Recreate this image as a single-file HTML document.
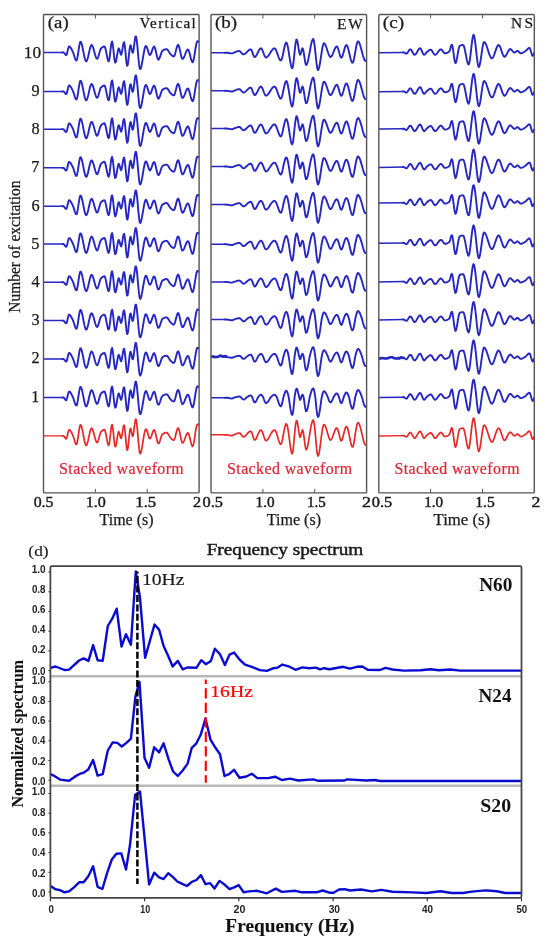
<!DOCTYPE html>
<html><head><meta charset="utf-8"><title>Figure</title>
<style>html,body{margin:0;padding:0;background:#fff;width:550px;height:944px;overflow:hidden}svg{display:block}</style>
</head><body>
<svg width="550" height="944" viewBox="0 0 550 944">
<rect width="550" height="944" fill="#ffffff"/>
<defs>
<clipPath id="ca"><rect x="43.5" y="14.5" width="155.6" height="478.4"/></clipPath>
<clipPath id="cb"><rect x="211.0" y="14.5" width="155.6" height="478.4"/></clipPath>
<clipPath id="cc"><rect x="378.8" y="14.5" width="155.5" height="478.4"/></clipPath>
</defs>
<g clip-path="url(#ca)" fill="none" stroke-linejoin="round" stroke-linecap="round">
<g stroke="#2626c2">
<path d="M43.5 52.40L62.8 52.40" stroke-width="1.5"/>
<path d="M62.3 52.40 62.9 52.40 63.5 52.44 64.1 52.92 64.7 53.73 65.3 54.56 65.9 55.12 66.5 54.94 67.1 53.18 67.7 50.57 68.3 48.04 68.9 46.52 69.5 46.50 70.1 47.00 70.7 47.82 71.3 48.85 71.9 49.99 72.5 51.13 73.1 52.37 73.7 54.09 74.3 56.06 74.9 57.98 75.5 59.54 76.1 60.47 76.7 60.31 77.3 58.27 77.9 54.86 78.5 50.80 79.1 46.81 79.7 43.58 80.3 41.83 80.9 41.98 81.5 43.31 82.1 45.49 82.7 48.24 83.3 51.29 83.9 54.37 84.5 57.19 85.1 59.48 85.7 60.97 86.3 61.38 86.9 60.64 87.5 59.01 88.1 56.74 88.7 54.11 89.3 51.39 89.9 48.85 90.5 46.76 91.1 45.40 91.7 45.01 92.3 45.61 92.9 46.95 93.5 48.80 94.1 50.96 94.7 53.21 95.3 55.33 95.9 57.12 96.5 58.34 97.1 58.80 97.7 58.22 98.3 56.73 98.9 54.68 99.5 52.46 100.1 50.42 100.7 48.93 101.3 48.21 101.9 47.66 102.5 47.17 103.1 46.78 103.7 46.52 104.3 46.40 104.9 46.96 105.5 48.84 106.1 51.58 106.7 54.68 107.3 57.67 107.9 60.04 108.5 61.31 109.1 60.59 109.7 57.00 110.3 51.85 110.9 46.59 111.5 42.64 112.1 41.46 112.7 43.88 113.3 48.75 113.9 54.51 114.5 59.64 115.1 62.57 115.7 62.28 116.3 59.93 116.9 56.48 117.5 52.82 118.1 49.81 118.7 48.33 119.3 49.09 119.9 51.34 120.5 53.70 121.1 54.80 121.7 53.39 122.3 50.08 122.9 46.20 123.5 43.10 124.1 42.16 124.7 44.88 125.3 50.34 125.9 56.81 126.5 62.55 127.1 65.85 127.7 65.19 128.3 61.21 128.9 55.55 129.5 49.89 130.1 45.91 130.7 45.19 131.3 47.40 131.9 50.60 132.5 52.81 133.1 52.23 133.7 48.86 134.3 44.14 134.9 39.55 135.5 36.54 136.1 36.56 136.7 39.84 137.3 45.37 137.9 52.07 138.5 58.86 139.1 64.66 139.7 68.39 140.3 69.12 140.9 67.99 141.5 65.78 142.1 62.80 142.7 59.35 143.3 55.75 143.9 52.30 144.5 49.32 145.1 47.11 145.7 45.98 146.3 46.15 146.9 47.32 147.5 49.10 148.1 51.13 148.7 53.03 149.3 54.45 149.9 55.00 150.5 54.53 151.1 53.33 151.7 51.69 152.3 49.91 152.9 48.27 153.5 47.07 154.1 46.60 154.7 47.29 155.3 49.09 155.9 51.56 156.5 54.29 157.1 56.83 157.7 58.77 158.3 59.68 158.9 59.38 159.5 58.28 160.1 56.68 160.7 54.84 161.3 53.05 161.9 51.57 162.5 50.67 163.1 50.31 163.7 49.99 164.3 49.72 164.9 49.49 165.5 49.33 166.1 49.23 166.7 49.21 167.3 49.52 167.9 50.20 168.5 51.12 169.1 52.14 169.7 53.14 170.3 53.99 170.9 54.57 171.5 55.10 172.1 55.61 172.7 56.04 173.3 56.32 173.9 56.38 174.5 55.58 175.1 53.86 175.7 51.61 176.3 49.20 176.9 47.01 177.5 45.41 178.1 44.80 178.7 45.52 179.3 47.39 179.9 49.98 180.5 52.87 181.1 55.60 181.7 57.76 182.3 58.91 182.9 58.85 183.5 58.14 184.1 56.99 184.7 55.55 185.3 53.99 185.9 52.44 186.5 51.08 187.1 50.06 187.7 49.54 188.3 49.76 188.9 50.99 189.5 52.94 190.1 55.29 190.7 57.72 191.3 59.90 191.9 61.53 192.5 62.28 193.1 61.66 193.7 59.48 194.3 56.23 194.9 52.41 195.5 48.50 196.1 45.00 196.7 42.42 197.3 41.23 197.9 41.22 198.5 41.43 199.1 42.06" stroke-width="1.9"/>
<path d="M43.5 91.40L62.8 91.40" stroke-width="1.5"/>
<path d="M62.3 91.40 62.9 91.40 63.5 91.44 64.1 91.92 64.7 92.73 65.3 93.56 65.9 94.12 66.5 93.94 67.1 92.18 67.7 89.57 68.3 87.04 68.9 85.52 69.5 85.50 70.1 86.00 70.7 86.82 71.3 87.85 71.9 88.99 72.5 90.13 73.1 91.37 73.7 93.09 74.3 95.06 74.9 96.98 75.5 98.54 76.1 99.47 76.7 99.31 77.3 97.27 77.9 93.86 78.5 89.80 79.1 85.81 79.7 82.58 80.3 80.83 80.9 80.98 81.5 82.31 82.1 84.49 82.7 87.24 83.3 90.29 83.9 93.37 84.5 96.19 85.1 98.48 85.7 99.97 86.3 100.38 86.9 99.64 87.5 98.01 88.1 95.74 88.7 93.11 89.3 90.39 89.9 87.85 90.5 85.76 91.1 84.40 91.7 84.01 92.3 84.61 92.9 85.95 93.5 87.80 94.1 89.96 94.7 92.21 95.3 94.33 95.9 96.12 96.5 97.34 97.1 97.80 97.7 97.22 98.3 95.73 98.9 93.68 99.5 91.46 100.1 89.42 100.7 87.93 101.3 87.21 101.9 86.66 102.5 86.17 103.1 85.78 103.7 85.52 104.3 85.40 104.9 85.96 105.5 87.84 106.1 90.58 106.7 93.68 107.3 96.67 107.9 99.04 108.5 100.31 109.1 99.59 109.7 96.00 110.3 90.85 110.9 85.59 111.5 81.64 112.1 80.46 112.7 82.88 113.3 87.75 113.9 93.51 114.5 98.64 115.1 101.57 115.7 101.28 116.3 98.93 116.9 95.48 117.5 91.82 118.1 88.81 118.7 87.33 119.3 88.09 119.9 90.34 120.5 92.70 121.1 93.80 121.7 92.39 122.3 89.08 122.9 85.20 123.5 82.10 124.1 81.16 124.7 83.88 125.3 89.34 125.9 95.81 126.5 101.55 127.1 104.85 127.7 104.19 128.3 100.21 128.9 94.55 129.5 88.89 130.1 84.91 130.7 84.19 131.3 86.40 131.9 89.60 132.5 91.81 133.1 91.23 133.7 87.86 134.3 83.14 134.9 78.55 135.5 75.54 136.1 75.56 136.7 78.84 137.3 84.37 137.9 91.07 138.5 97.86 139.1 103.66 139.7 107.39 140.3 108.12 140.9 106.99 141.5 104.78 142.1 101.80 142.7 98.35 143.3 94.75 143.9 91.30 144.5 88.32 145.1 86.11 145.7 84.98 146.3 85.15 146.9 86.32 147.5 88.10 148.1 90.13 148.7 92.03 149.3 93.45 149.9 94.00 150.5 93.53 151.1 92.33 151.7 90.69 152.3 88.91 152.9 87.27 153.5 86.07 154.1 85.60 154.7 86.29 155.3 88.09 155.9 90.56 156.5 93.29 157.1 95.83 157.7 97.77 158.3 98.68 158.9 98.38 159.5 97.28 160.1 95.68 160.7 93.84 161.3 92.05 161.9 90.57 162.5 89.67 163.1 89.31 163.7 88.99 164.3 88.72 164.9 88.49 165.5 88.33 166.1 88.23 166.7 88.21 167.3 88.52 167.9 89.20 168.5 90.12 169.1 91.14 169.7 92.14 170.3 92.99 170.9 93.57 171.5 94.10 172.1 94.61 172.7 95.04 173.3 95.32 173.9 95.38 174.5 94.58 175.1 92.86 175.7 90.61 176.3 88.20 176.9 86.01 177.5 84.41 178.1 83.80 178.7 84.52 179.3 86.39 179.9 88.98 180.5 91.87 181.1 94.60 181.7 96.76 182.3 97.91 182.9 97.85 183.5 97.14 184.1 95.99 184.7 94.55 185.3 92.99 185.9 91.44 186.5 90.08 187.1 89.06 187.7 88.54 188.3 88.76 188.9 89.99 189.5 91.94 190.1 94.29 190.7 96.72 191.3 98.90 191.9 100.53 192.5 101.28 193.1 100.66 193.7 98.48 194.3 95.23 194.9 91.41 195.5 87.50 196.1 84.00 196.7 81.42 197.3 80.23 197.9 80.22 198.5 80.43 199.1 81.06" stroke-width="1.9"/>
<path d="M43.5 129.30L62.8 129.30" stroke-width="1.5"/>
<path d="M62.3 129.30 62.9 129.30 63.5 129.34 64.1 129.82 64.7 130.63 65.3 131.46 65.9 132.02 66.5 131.84 67.1 130.08 67.7 127.47 68.3 124.94 68.9 123.42 69.5 123.40 70.1 123.90 70.7 124.72 71.3 125.75 71.9 126.89 72.5 128.03 73.1 129.27 73.7 130.99 74.3 132.96 74.9 134.88 75.5 136.44 76.1 137.37 76.7 137.21 77.3 135.17 77.9 131.76 78.5 127.70 79.1 123.71 79.7 120.48 80.3 118.73 80.9 118.88 81.5 120.21 82.1 122.39 82.7 125.14 83.3 128.19 83.9 131.27 84.5 134.09 85.1 136.38 85.7 137.87 86.3 138.28 86.9 137.54 87.5 135.91 88.1 133.64 88.7 131.01 89.3 128.29 89.9 125.75 90.5 123.66 91.1 122.30 91.7 121.91 92.3 122.51 92.9 123.85 93.5 125.70 94.1 127.86 94.7 130.11 95.3 132.23 95.9 134.02 96.5 135.24 97.1 135.70 97.7 135.12 98.3 133.63 98.9 131.58 99.5 129.36 100.1 127.32 100.7 125.83 101.3 125.11 101.9 124.56 102.5 124.07 103.1 123.68 103.7 123.42 104.3 123.30 104.9 123.86 105.5 125.74 106.1 128.48 106.7 131.58 107.3 134.57 107.9 136.94 108.5 138.21 109.1 137.49 109.7 133.90 110.3 128.75 110.9 123.49 111.5 119.54 112.1 118.36 112.7 120.78 113.3 125.65 113.9 131.41 114.5 136.54 115.1 139.47 115.7 139.18 116.3 136.83 116.9 133.38 117.5 129.72 118.1 126.71 118.7 125.23 119.3 125.99 119.9 128.24 120.5 130.60 121.1 131.70 121.7 130.29 122.3 126.98 122.9 123.10 123.5 120.00 124.1 119.06 124.7 121.78 125.3 127.24 125.9 133.71 126.5 139.45 127.1 142.75 127.7 142.09 128.3 138.11 128.9 132.45 129.5 126.79 130.1 122.81 130.7 122.09 131.3 124.30 131.9 127.50 132.5 129.71 133.1 129.13 133.7 125.76 134.3 121.04 134.9 116.45 135.5 113.44 136.1 113.46 136.7 116.74 137.3 122.27 137.9 128.97 138.5 135.76 139.1 141.56 139.7 145.29 140.3 146.02 140.9 144.89 141.5 142.68 142.1 139.70 142.7 136.25 143.3 132.65 143.9 129.20 144.5 126.22 145.1 124.01 145.7 122.88 146.3 123.05 146.9 124.22 147.5 126.00 148.1 128.03 148.7 129.93 149.3 131.35 149.9 131.90 150.5 131.43 151.1 130.23 151.7 128.59 152.3 126.81 152.9 125.17 153.5 123.97 154.1 123.50 154.7 124.19 155.3 125.99 155.9 128.46 156.5 131.19 157.1 133.73 157.7 135.67 158.3 136.58 158.9 136.28 159.5 135.18 160.1 133.58 160.7 131.74 161.3 129.95 161.9 128.47 162.5 127.57 163.1 127.21 163.7 126.89 164.3 126.62 164.9 126.39 165.5 126.23 166.1 126.13 166.7 126.11 167.3 126.42 167.9 127.10 168.5 128.02 169.1 129.04 169.7 130.04 170.3 130.89 170.9 131.47 171.5 132.00 172.1 132.51 172.7 132.94 173.3 133.22 173.9 133.28 174.5 132.48 175.1 130.76 175.7 128.51 176.3 126.10 176.9 123.91 177.5 122.31 178.1 121.70 178.7 122.42 179.3 124.29 179.9 126.88 180.5 129.77 181.1 132.50 181.7 134.66 182.3 135.81 182.9 135.75 183.5 135.04 184.1 133.89 184.7 132.45 185.3 130.89 185.9 129.34 186.5 127.98 187.1 126.96 187.7 126.44 188.3 126.66 188.9 127.89 189.5 129.84 190.1 132.19 190.7 134.62 191.3 136.80 191.9 138.43 192.5 139.18 193.1 138.56 193.7 136.38 194.3 133.13 194.9 129.31 195.5 125.40 196.1 121.90 196.7 119.32 197.3 118.13 197.9 118.12 198.5 118.33 199.1 118.96" stroke-width="1.9"/>
<path d="M43.5 167.80L62.8 167.80" stroke-width="1.5"/>
<path d="M62.3 167.80 62.9 167.80 63.5 167.84 64.1 168.32 64.7 169.13 65.3 169.96 65.9 170.52 66.5 170.34 67.1 168.58 67.7 165.97 68.3 163.44 68.9 161.92 69.5 161.90 70.1 162.40 70.7 163.22 71.3 164.25 71.9 165.39 72.5 166.53 73.1 167.77 73.7 169.49 74.3 171.46 74.9 173.38 75.5 174.94 76.1 175.87 76.7 175.71 77.3 173.67 77.9 170.26 78.5 166.20 79.1 162.21 79.7 158.98 80.3 157.23 80.9 157.38 81.5 158.71 82.1 160.89 82.7 163.64 83.3 166.69 83.9 169.77 84.5 172.59 85.1 174.88 85.7 176.37 86.3 176.78 86.9 176.04 87.5 174.41 88.1 172.14 88.7 169.51 89.3 166.79 89.9 164.25 90.5 162.16 91.1 160.80 91.7 160.41 92.3 161.01 92.9 162.35 93.5 164.20 94.1 166.36 94.7 168.61 95.3 170.73 95.9 172.52 96.5 173.74 97.1 174.20 97.7 173.62 98.3 172.13 98.9 170.08 99.5 167.86 100.1 165.82 100.7 164.33 101.3 163.61 101.9 163.06 102.5 162.57 103.1 162.18 103.7 161.92 104.3 161.80 104.9 162.36 105.5 164.24 106.1 166.98 106.7 170.08 107.3 173.07 107.9 175.44 108.5 176.71 109.1 175.99 109.7 172.40 110.3 167.25 110.9 161.99 111.5 158.04 112.1 156.86 112.7 159.28 113.3 164.15 113.9 169.91 114.5 175.04 115.1 177.97 115.7 177.68 116.3 175.33 116.9 171.88 117.5 168.22 118.1 165.21 118.7 163.73 119.3 164.49 119.9 166.74 120.5 169.10 121.1 170.20 121.7 168.79 122.3 165.48 122.9 161.60 123.5 158.50 124.1 157.56 124.7 160.28 125.3 165.74 125.9 172.21 126.5 177.95 127.1 181.25 127.7 180.59 128.3 176.61 128.9 170.95 129.5 165.29 130.1 161.31 130.7 160.59 131.3 162.80 131.9 166.00 132.5 168.21 133.1 167.63 133.7 164.26 134.3 159.54 134.9 154.95 135.5 151.94 136.1 151.96 136.7 155.24 137.3 160.77 137.9 167.47 138.5 174.26 139.1 180.06 139.7 183.79 140.3 184.52 140.9 183.39 141.5 181.18 142.1 178.20 142.7 174.75 143.3 171.15 143.9 167.70 144.5 164.72 145.1 162.51 145.7 161.38 146.3 161.55 146.9 162.72 147.5 164.50 148.1 166.53 148.7 168.43 149.3 169.85 149.9 170.40 150.5 169.93 151.1 168.73 151.7 167.09 152.3 165.31 152.9 163.67 153.5 162.47 154.1 162.00 154.7 162.69 155.3 164.49 155.9 166.96 156.5 169.69 157.1 172.23 157.7 174.17 158.3 175.08 158.9 174.78 159.5 173.68 160.1 172.08 160.7 170.24 161.3 168.45 161.9 166.97 162.5 166.07 163.1 165.71 163.7 165.39 164.3 165.12 164.9 164.89 165.5 164.73 166.1 164.63 166.7 164.61 167.3 164.92 167.9 165.60 168.5 166.52 169.1 167.54 169.7 168.54 170.3 169.39 170.9 169.97 171.5 170.50 172.1 171.01 172.7 171.44 173.3 171.72 173.9 171.78 174.5 170.98 175.1 169.26 175.7 167.01 176.3 164.60 176.9 162.41 177.5 160.81 178.1 160.20 178.7 160.92 179.3 162.79 179.9 165.38 180.5 168.27 181.1 171.00 181.7 173.16 182.3 174.31 182.9 174.25 183.5 173.54 184.1 172.39 184.7 170.95 185.3 169.39 185.9 167.84 186.5 166.48 187.1 165.46 187.7 164.94 188.3 165.16 188.9 166.39 189.5 168.34 190.1 170.69 190.7 173.12 191.3 175.30 191.9 176.93 192.5 177.68 193.1 177.06 193.7 174.88 194.3 171.63 194.9 167.81 195.5 163.90 196.1 160.40 196.7 157.82 197.3 156.63 197.9 156.62 198.5 156.83 199.1 157.46" stroke-width="1.9"/>
<path d="M43.5 206.20L62.8 206.20" stroke-width="1.5"/>
<path d="M62.3 206.20 62.9 206.20 63.5 206.24 64.1 206.72 64.7 207.53 65.3 208.36 65.9 208.92 66.5 208.74 67.1 206.98 67.7 204.37 68.3 201.84 68.9 200.32 69.5 200.30 70.1 200.80 70.7 201.62 71.3 202.65 71.9 203.79 72.5 204.93 73.1 206.17 73.7 207.89 74.3 209.86 74.9 211.78 75.5 213.34 76.1 214.27 76.7 214.11 77.3 212.07 77.9 208.66 78.5 204.60 79.1 200.61 79.7 197.38 80.3 195.63 80.9 195.78 81.5 197.11 82.1 199.29 82.7 202.04 83.3 205.09 83.9 208.17 84.5 210.99 85.1 213.28 85.7 214.77 86.3 215.18 86.9 214.44 87.5 212.81 88.1 210.54 88.7 207.91 89.3 205.19 89.9 202.65 90.5 200.56 91.1 199.20 91.7 198.81 92.3 199.41 92.9 200.75 93.5 202.60 94.1 204.76 94.7 207.01 95.3 209.13 95.9 210.92 96.5 212.14 97.1 212.60 97.7 212.02 98.3 210.53 98.9 208.48 99.5 206.26 100.1 204.22 100.7 202.73 101.3 202.01 101.9 201.46 102.5 200.97 103.1 200.58 103.7 200.32 104.3 200.20 104.9 200.76 105.5 202.64 106.1 205.38 106.7 208.48 107.3 211.47 107.9 213.84 108.5 215.11 109.1 214.39 109.7 210.80 110.3 205.65 110.9 200.39 111.5 196.44 112.1 195.26 112.7 197.68 113.3 202.55 113.9 208.31 114.5 213.44 115.1 216.37 115.7 216.08 116.3 213.73 116.9 210.28 117.5 206.62 118.1 203.61 118.7 202.13 119.3 202.89 119.9 205.14 120.5 207.50 121.1 208.60 121.7 207.19 122.3 203.88 122.9 200.00 123.5 196.90 124.1 195.96 124.7 198.68 125.3 204.14 125.9 210.61 126.5 216.35 127.1 219.65 127.7 218.99 128.3 215.01 128.9 209.35 129.5 203.69 130.1 199.71 130.7 198.99 131.3 201.20 131.9 204.40 132.5 206.61 133.1 206.03 133.7 202.66 134.3 197.94 134.9 193.35 135.5 190.34 136.1 190.36 136.7 193.64 137.3 199.17 137.9 205.87 138.5 212.66 139.1 218.46 139.7 222.19 140.3 222.92 140.9 221.79 141.5 219.58 142.1 216.60 142.7 213.15 143.3 209.55 143.9 206.10 144.5 203.12 145.1 200.91 145.7 199.78 146.3 199.95 146.9 201.12 147.5 202.90 148.1 204.93 148.7 206.83 149.3 208.25 149.9 208.80 150.5 208.33 151.1 207.13 151.7 205.49 152.3 203.71 152.9 202.07 153.5 200.87 154.1 200.40 154.7 201.09 155.3 202.89 155.9 205.36 156.5 208.09 157.1 210.63 157.7 212.57 158.3 213.48 158.9 213.18 159.5 212.08 160.1 210.48 160.7 208.64 161.3 206.85 161.9 205.37 162.5 204.47 163.1 204.11 163.7 203.79 164.3 203.52 164.9 203.29 165.5 203.13 166.1 203.03 166.7 203.01 167.3 203.32 167.9 204.00 168.5 204.92 169.1 205.94 169.7 206.94 170.3 207.79 170.9 208.37 171.5 208.90 172.1 209.41 172.7 209.84 173.3 210.12 173.9 210.18 174.5 209.38 175.1 207.66 175.7 205.41 176.3 203.00 176.9 200.81 177.5 199.21 178.1 198.60 178.7 199.32 179.3 201.19 179.9 203.78 180.5 206.67 181.1 209.40 181.7 211.56 182.3 212.71 182.9 212.65 183.5 211.94 184.1 210.79 184.7 209.35 185.3 207.79 185.9 206.24 186.5 204.88 187.1 203.86 187.7 203.34 188.3 203.56 188.9 204.79 189.5 206.74 190.1 209.09 190.7 211.52 191.3 213.70 191.9 215.33 192.5 216.08 193.1 215.46 193.7 213.28 194.3 210.03 194.9 206.21 195.5 202.30 196.1 198.80 196.7 196.22 197.3 195.03 197.9 195.02 198.5 195.23 199.1 195.86" stroke-width="1.9"/>
<path d="M43.5 244.00L62.8 244.00" stroke-width="1.5"/>
<path d="M62.3 244.00 62.9 244.00 63.5 244.04 64.1 244.52 64.7 245.33 65.3 246.16 65.9 246.72 66.5 246.54 67.1 244.78 67.7 242.17 68.3 239.64 68.9 238.12 69.5 238.10 70.1 238.60 70.7 239.42 71.3 240.45 71.9 241.59 72.5 242.73 73.1 243.97 73.7 245.69 74.3 247.66 74.9 249.58 75.5 251.14 76.1 252.07 76.7 251.91 77.3 249.87 77.9 246.46 78.5 242.40 79.1 238.41 79.7 235.18 80.3 233.43 80.9 233.58 81.5 234.91 82.1 237.09 82.7 239.84 83.3 242.89 83.9 245.97 84.5 248.79 85.1 251.08 85.7 252.57 86.3 252.98 86.9 252.24 87.5 250.61 88.1 248.34 88.7 245.71 89.3 242.99 89.9 240.45 90.5 238.36 91.1 237.00 91.7 236.61 92.3 237.21 92.9 238.55 93.5 240.40 94.1 242.56 94.7 244.81 95.3 246.93 95.9 248.72 96.5 249.94 97.1 250.40 97.7 249.82 98.3 248.33 98.9 246.28 99.5 244.06 100.1 242.02 100.7 240.53 101.3 239.81 101.9 239.26 102.5 238.77 103.1 238.38 103.7 238.12 104.3 238.00 104.9 238.56 105.5 240.44 106.1 243.18 106.7 246.28 107.3 249.27 107.9 251.64 108.5 252.91 109.1 252.19 109.7 248.60 110.3 243.45 110.9 238.19 111.5 234.24 112.1 233.06 112.7 235.48 113.3 240.35 113.9 246.11 114.5 251.24 115.1 254.17 115.7 253.88 116.3 251.53 116.9 248.08 117.5 244.42 118.1 241.41 118.7 239.93 119.3 240.69 119.9 242.94 120.5 245.30 121.1 246.40 121.7 244.99 122.3 241.68 122.9 237.80 123.5 234.70 124.1 233.76 124.7 236.48 125.3 241.94 125.9 248.41 126.5 254.15 127.1 257.45 127.7 256.79 128.3 252.81 128.9 247.15 129.5 241.49 130.1 237.51 130.7 236.79 131.3 239.00 131.9 242.20 132.5 244.41 133.1 243.83 133.7 240.46 134.3 235.74 134.9 231.15 135.5 228.14 136.1 228.16 136.7 231.44 137.3 236.97 137.9 243.67 138.5 250.46 139.1 256.26 139.7 259.99 140.3 260.72 140.9 259.59 141.5 257.38 142.1 254.40 142.7 250.95 143.3 247.35 143.9 243.90 144.5 240.92 145.1 238.71 145.7 237.58 146.3 237.75 146.9 238.92 147.5 240.70 148.1 242.73 148.7 244.63 149.3 246.05 149.9 246.60 150.5 246.13 151.1 244.93 151.7 243.29 152.3 241.51 152.9 239.87 153.5 238.67 154.1 238.20 154.7 238.89 155.3 240.69 155.9 243.16 156.5 245.89 157.1 248.43 157.7 250.37 158.3 251.28 158.9 250.98 159.5 249.88 160.1 248.28 160.7 246.44 161.3 244.65 161.9 243.17 162.5 242.27 163.1 241.91 163.7 241.59 164.3 241.32 164.9 241.09 165.5 240.93 166.1 240.83 166.7 240.81 167.3 241.12 167.9 241.80 168.5 242.72 169.1 243.74 169.7 244.74 170.3 245.59 170.9 246.17 171.5 246.70 172.1 247.21 172.7 247.64 173.3 247.92 173.9 247.98 174.5 247.18 175.1 245.46 175.7 243.21 176.3 240.80 176.9 238.61 177.5 237.01 178.1 236.40 178.7 237.12 179.3 238.99 179.9 241.58 180.5 244.47 181.1 247.20 181.7 249.36 182.3 250.51 182.9 250.45 183.5 249.74 184.1 248.59 184.7 247.15 185.3 245.59 185.9 244.04 186.5 242.68 187.1 241.66 187.7 241.14 188.3 241.36 188.9 242.59 189.5 244.54 190.1 246.89 190.7 249.32 191.3 251.50 191.9 253.13 192.5 253.88 193.1 253.26 193.7 251.08 194.3 247.83 194.9 244.01 195.5 240.10 196.1 236.60 196.7 234.02 197.3 232.83 197.9 232.82 198.5 233.03 199.1 233.66" stroke-width="1.9"/>
<path d="M43.5 282.20L62.8 282.20" stroke-width="1.5"/>
<path d="M62.3 282.20 62.9 282.20 63.5 282.24 64.1 282.72 64.7 283.53 65.3 284.36 65.9 284.92 66.5 284.74 67.1 282.98 67.7 280.37 68.3 277.84 68.9 276.32 69.5 276.30 70.1 276.80 70.7 277.62 71.3 278.65 71.9 279.79 72.5 280.93 73.1 282.17 73.7 283.89 74.3 285.86 74.9 287.78 75.5 289.34 76.1 290.27 76.7 290.11 77.3 288.07 77.9 284.66 78.5 280.60 79.1 276.61 79.7 273.38 80.3 271.63 80.9 271.78 81.5 273.11 82.1 275.29 82.7 278.04 83.3 281.09 83.9 284.17 84.5 286.99 85.1 289.28 85.7 290.77 86.3 291.18 86.9 290.44 87.5 288.81 88.1 286.54 88.7 283.91 89.3 281.19 89.9 278.65 90.5 276.56 91.1 275.20 91.7 274.81 92.3 275.41 92.9 276.75 93.5 278.60 94.1 280.76 94.7 283.01 95.3 285.13 95.9 286.92 96.5 288.14 97.1 288.60 97.7 288.02 98.3 286.53 98.9 284.48 99.5 282.26 100.1 280.22 100.7 278.73 101.3 278.01 101.9 277.46 102.5 276.97 103.1 276.58 103.7 276.32 104.3 276.20 104.9 276.76 105.5 278.64 106.1 281.38 106.7 284.48 107.3 287.47 107.9 289.84 108.5 291.11 109.1 290.39 109.7 286.80 110.3 281.65 110.9 276.39 111.5 272.44 112.1 271.26 112.7 273.68 113.3 278.55 113.9 284.31 114.5 289.44 115.1 292.37 115.7 292.08 116.3 289.73 116.9 286.28 117.5 282.62 118.1 279.61 118.7 278.13 119.3 278.89 119.9 281.14 120.5 283.50 121.1 284.60 121.7 283.19 122.3 279.88 122.9 276.00 123.5 272.90 124.1 271.96 124.7 274.68 125.3 280.14 125.9 286.61 126.5 292.35 127.1 295.65 127.7 294.99 128.3 291.01 128.9 285.35 129.5 279.69 130.1 275.71 130.7 274.99 131.3 277.20 131.9 280.40 132.5 282.61 133.1 282.03 133.7 278.66 134.3 273.94 134.9 269.35 135.5 266.34 136.1 266.36 136.7 269.64 137.3 275.17 137.9 281.87 138.5 288.66 139.1 294.46 139.7 298.19 140.3 298.92 140.9 297.79 141.5 295.58 142.1 292.60 142.7 289.15 143.3 285.55 143.9 282.10 144.5 279.12 145.1 276.91 145.7 275.78 146.3 275.95 146.9 277.12 147.5 278.90 148.1 280.93 148.7 282.83 149.3 284.25 149.9 284.80 150.5 284.33 151.1 283.13 151.7 281.49 152.3 279.71 152.9 278.07 153.5 276.87 154.1 276.40 154.7 277.09 155.3 278.89 155.9 281.36 156.5 284.09 157.1 286.63 157.7 288.57 158.3 289.48 158.9 289.18 159.5 288.08 160.1 286.48 160.7 284.64 161.3 282.85 161.9 281.37 162.5 280.47 163.1 280.11 163.7 279.79 164.3 279.52 164.9 279.29 165.5 279.13 166.1 279.03 166.7 279.01 167.3 279.32 167.9 280.00 168.5 280.92 169.1 281.94 169.7 282.94 170.3 283.79 170.9 284.37 171.5 284.90 172.1 285.41 172.7 285.84 173.3 286.12 173.9 286.18 174.5 285.38 175.1 283.66 175.7 281.41 176.3 279.00 176.9 276.81 177.5 275.21 178.1 274.60 178.7 275.32 179.3 277.19 179.9 279.78 180.5 282.67 181.1 285.40 181.7 287.56 182.3 288.71 182.9 288.65 183.5 287.94 184.1 286.79 184.7 285.35 185.3 283.79 185.9 282.24 186.5 280.88 187.1 279.86 187.7 279.34 188.3 279.56 188.9 280.79 189.5 282.74 190.1 285.09 190.7 287.52 191.3 289.70 191.9 291.33 192.5 292.08 193.1 291.46 193.7 289.28 194.3 286.03 194.9 282.21 195.5 278.30 196.1 274.80 196.7 272.22 197.3 271.03 197.9 271.02 198.5 271.23 199.1 271.86" stroke-width="1.9"/>
<path d="M43.5 320.60L62.8 320.60" stroke-width="1.5"/>
<path d="M62.3 320.60 62.9 320.60 63.5 320.64 64.1 321.12 64.7 321.93 65.3 322.76 65.9 323.32 66.5 323.14 67.1 321.38 67.7 318.77 68.3 316.24 68.9 314.72 69.5 314.70 70.1 315.20 70.7 316.02 71.3 317.05 71.9 318.19 72.5 319.33 73.1 320.57 73.7 322.29 74.3 324.26 74.9 326.18 75.5 327.74 76.1 328.67 76.7 328.51 77.3 326.47 77.9 323.06 78.5 319.00 79.1 315.01 79.7 311.78 80.3 310.03 80.9 310.18 81.5 311.51 82.1 313.69 82.7 316.44 83.3 319.49 83.9 322.57 84.5 325.39 85.1 327.68 85.7 329.17 86.3 329.58 86.9 328.84 87.5 327.21 88.1 324.94 88.7 322.31 89.3 319.59 89.9 317.05 90.5 314.96 91.1 313.60 91.7 313.21 92.3 313.81 92.9 315.15 93.5 317.00 94.1 319.16 94.7 321.41 95.3 323.53 95.9 325.32 96.5 326.54 97.1 327.00 97.7 326.42 98.3 324.93 98.9 322.88 99.5 320.66 100.1 318.62 100.7 317.13 101.3 316.41 101.9 315.86 102.5 315.37 103.1 314.98 103.7 314.72 104.3 314.60 104.9 315.16 105.5 317.04 106.1 319.78 106.7 322.88 107.3 325.87 107.9 328.24 108.5 329.51 109.1 328.79 109.7 325.20 110.3 320.05 110.9 314.79 111.5 310.84 112.1 309.66 112.7 312.08 113.3 316.95 113.9 322.71 114.5 327.84 115.1 330.77 115.7 330.48 116.3 328.13 116.9 324.68 117.5 321.02 118.1 318.01 118.7 316.53 119.3 317.29 119.9 319.54 120.5 321.90 121.1 323.00 121.7 321.59 122.3 318.28 122.9 314.40 123.5 311.30 124.1 310.36 124.7 313.08 125.3 318.54 125.9 325.01 126.5 330.75 127.1 334.05 127.7 333.39 128.3 329.41 128.9 323.75 129.5 318.09 130.1 314.11 130.7 313.39 131.3 315.60 131.9 318.80 132.5 321.01 133.1 320.43 133.7 317.06 134.3 312.34 134.9 307.75 135.5 304.74 136.1 304.76 136.7 308.04 137.3 313.57 137.9 320.27 138.5 327.06 139.1 332.86 139.7 336.59 140.3 337.32 140.9 336.19 141.5 333.98 142.1 331.00 142.7 327.55 143.3 323.95 143.9 320.50 144.5 317.52 145.1 315.31 145.7 314.18 146.3 314.35 146.9 315.52 147.5 317.30 148.1 319.33 148.7 321.23 149.3 322.65 149.9 323.20 150.5 322.73 151.1 321.53 151.7 319.89 152.3 318.11 152.9 316.47 153.5 315.27 154.1 314.80 154.7 315.49 155.3 317.29 155.9 319.76 156.5 322.49 157.1 325.03 157.7 326.97 158.3 327.88 158.9 327.58 159.5 326.48 160.1 324.88 160.7 323.04 161.3 321.25 161.9 319.77 162.5 318.87 163.1 318.51 163.7 318.19 164.3 317.92 164.9 317.69 165.5 317.53 166.1 317.43 166.7 317.41 167.3 317.72 167.9 318.40 168.5 319.32 169.1 320.34 169.7 321.34 170.3 322.19 170.9 322.77 171.5 323.30 172.1 323.81 172.7 324.24 173.3 324.52 173.9 324.58 174.5 323.78 175.1 322.06 175.7 319.81 176.3 317.40 176.9 315.21 177.5 313.61 178.1 313.00 178.7 313.72 179.3 315.59 179.9 318.18 180.5 321.07 181.1 323.80 181.7 325.96 182.3 327.11 182.9 327.05 183.5 326.34 184.1 325.19 184.7 323.75 185.3 322.19 185.9 320.64 186.5 319.28 187.1 318.26 187.7 317.74 188.3 317.96 188.9 319.19 189.5 321.14 190.1 323.49 190.7 325.92 191.3 328.10 191.9 329.73 192.5 330.48 193.1 329.86 193.7 327.68 194.3 324.43 194.9 320.61 195.5 316.70 196.1 313.20 196.7 310.62 197.3 309.43 197.9 309.42 198.5 309.63 199.1 310.26" stroke-width="1.9"/>
<path d="M43.5 358.90L62.8 358.90" stroke-width="1.5"/>
<path d="M62.3 358.90 62.9 358.90 63.5 358.94 64.1 359.42 64.7 360.23 65.3 361.06 65.9 361.62 66.5 361.44 67.1 359.68 67.7 357.07 68.3 354.54 68.9 353.02 69.5 353.00 70.1 353.50 70.7 354.32 71.3 355.35 71.9 356.49 72.5 357.63 73.1 358.87 73.7 360.59 74.3 362.56 74.9 364.48 75.5 366.04 76.1 366.97 76.7 366.81 77.3 364.77 77.9 361.36 78.5 357.30 79.1 353.31 79.7 350.08 80.3 348.33 80.9 348.48 81.5 349.81 82.1 351.99 82.7 354.74 83.3 357.79 83.9 360.87 84.5 363.69 85.1 365.98 85.7 367.47 86.3 367.88 86.9 367.14 87.5 365.51 88.1 363.24 88.7 360.61 89.3 357.89 89.9 355.35 90.5 353.26 91.1 351.90 91.7 351.51 92.3 352.11 92.9 353.45 93.5 355.30 94.1 357.46 94.7 359.71 95.3 361.83 95.9 363.62 96.5 364.84 97.1 365.30 97.7 364.72 98.3 363.23 98.9 361.18 99.5 358.96 100.1 356.92 100.7 355.43 101.3 354.71 101.9 354.16 102.5 353.67 103.1 353.28 103.7 353.02 104.3 352.90 104.9 353.46 105.5 355.34 106.1 358.08 106.7 361.18 107.3 364.17 107.9 366.54 108.5 367.81 109.1 367.09 109.7 363.50 110.3 358.35 110.9 353.09 111.5 349.14 112.1 347.96 112.7 350.38 113.3 355.25 113.9 361.01 114.5 366.14 115.1 369.07 115.7 368.78 116.3 366.43 116.9 362.98 117.5 359.32 118.1 356.31 118.7 354.83 119.3 355.59 119.9 357.84 120.5 360.20 121.1 361.30 121.7 359.89 122.3 356.58 122.9 352.70 123.5 349.60 124.1 348.66 124.7 351.38 125.3 356.84 125.9 363.31 126.5 369.05 127.1 372.35 127.7 371.69 128.3 367.71 128.9 362.05 129.5 356.39 130.1 352.41 130.7 351.69 131.3 353.90 131.9 357.10 132.5 359.31 133.1 358.73 133.7 355.36 134.3 350.64 134.9 346.05 135.5 343.04 136.1 343.06 136.7 346.34 137.3 351.87 137.9 358.57 138.5 365.36 139.1 371.16 139.7 374.89 140.3 375.62 140.9 374.49 141.5 372.28 142.1 369.30 142.7 365.85 143.3 362.25 143.9 358.80 144.5 355.82 145.1 353.61 145.7 352.48 146.3 352.65 146.9 353.82 147.5 355.60 148.1 357.63 148.7 359.53 149.3 360.95 149.9 361.50 150.5 361.03 151.1 359.83 151.7 358.19 152.3 356.41 152.9 354.77 153.5 353.57 154.1 353.10 154.7 353.79 155.3 355.59 155.9 358.06 156.5 360.79 157.1 363.33 157.7 365.27 158.3 366.18 158.9 365.88 159.5 364.78 160.1 363.18 160.7 361.34 161.3 359.55 161.9 358.07 162.5 357.17 163.1 356.81 163.7 356.49 164.3 356.22 164.9 355.99 165.5 355.83 166.1 355.73 166.7 355.71 167.3 356.02 167.9 356.70 168.5 357.62 169.1 358.64 169.7 359.64 170.3 360.49 170.9 361.07 171.5 361.60 172.1 362.11 172.7 362.54 173.3 362.82 173.9 362.88 174.5 362.08 175.1 360.36 175.7 358.11 176.3 355.70 176.9 353.51 177.5 351.91 178.1 351.30 178.7 352.02 179.3 353.89 179.9 356.48 180.5 359.37 181.1 362.10 181.7 364.26 182.3 365.41 182.9 365.35 183.5 364.64 184.1 363.49 184.7 362.05 185.3 360.49 185.9 358.94 186.5 357.58 187.1 356.56 187.7 356.04 188.3 356.26 188.9 357.49 189.5 359.44 190.1 361.79 190.7 364.22 191.3 366.40 191.9 368.03 192.5 368.78 193.1 368.16 193.7 365.98 194.3 362.73 194.9 358.91 195.5 355.00 196.1 351.50 196.7 348.92 197.3 347.73 197.9 347.72 198.5 347.93 199.1 348.56" stroke-width="1.9"/>
<path d="M43.5 397.50L62.8 397.50" stroke-width="1.5"/>
<path d="M62.3 397.50 62.9 397.50 63.5 397.54 64.1 398.02 64.7 398.83 65.3 399.66 65.9 400.22 66.5 400.04 67.1 398.28 67.7 395.67 68.3 393.14 68.9 391.62 69.5 391.60 70.1 392.10 70.7 392.92 71.3 393.95 71.9 395.09 72.5 396.23 73.1 397.47 73.7 399.19 74.3 401.16 74.9 403.08 75.5 404.64 76.1 405.57 76.7 405.41 77.3 403.37 77.9 399.96 78.5 395.90 79.1 391.91 79.7 388.68 80.3 386.93 80.9 387.08 81.5 388.41 82.1 390.59 82.7 393.34 83.3 396.39 83.9 399.47 84.5 402.29 85.1 404.58 85.7 406.07 86.3 406.48 86.9 405.74 87.5 404.11 88.1 401.84 88.7 399.21 89.3 396.49 89.9 393.95 90.5 391.86 91.1 390.50 91.7 390.11 92.3 390.71 92.9 392.05 93.5 393.90 94.1 396.06 94.7 398.31 95.3 400.43 95.9 402.22 96.5 403.44 97.1 403.90 97.7 403.32 98.3 401.83 98.9 399.78 99.5 397.56 100.1 395.52 100.7 394.03 101.3 393.31 101.9 392.76 102.5 392.27 103.1 391.88 103.7 391.62 104.3 391.50 104.9 392.06 105.5 393.94 106.1 396.68 106.7 399.78 107.3 402.77 107.9 405.14 108.5 406.41 109.1 405.69 109.7 402.10 110.3 396.95 110.9 391.69 111.5 387.74 112.1 386.56 112.7 388.98 113.3 393.85 113.9 399.61 114.5 404.74 115.1 407.67 115.7 407.38 116.3 405.03 116.9 401.58 117.5 397.92 118.1 394.91 118.7 393.43 119.3 394.19 119.9 396.44 120.5 398.80 121.1 399.90 121.7 398.49 122.3 395.18 122.9 391.30 123.5 388.20 124.1 387.26 124.7 389.98 125.3 395.44 125.9 401.91 126.5 407.65 127.1 410.95 127.7 410.29 128.3 406.31 128.9 400.65 129.5 394.99 130.1 391.01 130.7 390.29 131.3 392.50 131.9 395.70 132.5 397.91 133.1 397.33 133.7 393.96 134.3 389.24 134.9 384.65 135.5 381.64 136.1 381.66 136.7 384.94 137.3 390.47 137.9 397.17 138.5 403.96 139.1 409.76 139.7 413.49 140.3 414.22 140.9 413.09 141.5 410.88 142.1 407.90 142.7 404.45 143.3 400.85 143.9 397.40 144.5 394.42 145.1 392.21 145.7 391.08 146.3 391.25 146.9 392.42 147.5 394.20 148.1 396.23 148.7 398.13 149.3 399.55 149.9 400.10 150.5 399.63 151.1 398.43 151.7 396.79 152.3 395.01 152.9 393.37 153.5 392.17 154.1 391.70 154.7 392.39 155.3 394.19 155.9 396.66 156.5 399.39 157.1 401.93 157.7 403.87 158.3 404.78 158.9 404.48 159.5 403.38 160.1 401.78 160.7 399.94 161.3 398.15 161.9 396.67 162.5 395.77 163.1 395.41 163.7 395.09 164.3 394.82 164.9 394.59 165.5 394.43 166.1 394.33 166.7 394.31 167.3 394.62 167.9 395.30 168.5 396.22 169.1 397.24 169.7 398.24 170.3 399.09 170.9 399.67 171.5 400.20 172.1 400.71 172.7 401.14 173.3 401.42 173.9 401.48 174.5 400.68 175.1 398.96 175.7 396.71 176.3 394.30 176.9 392.11 177.5 390.51 178.1 389.90 178.7 390.62 179.3 392.49 179.9 395.08 180.5 397.97 181.1 400.70 181.7 402.86 182.3 404.01 182.9 403.95 183.5 403.24 184.1 402.09 184.7 400.65 185.3 399.09 185.9 397.54 186.5 396.18 187.1 395.16 187.7 394.64 188.3 394.86 188.9 396.09 189.5 398.04 190.1 400.39 190.7 402.82 191.3 405.00 191.9 406.63 192.5 407.38 193.1 406.76 193.7 404.58 194.3 401.33 194.9 397.51 195.5 393.60 196.1 390.10 196.7 387.52 197.3 386.33 197.9 386.32 198.5 386.53 199.1 387.16" stroke-width="1.9"/>
</g>
<g stroke="#e82626">
<path d="M43.5 435.90L62.8 435.90" stroke-width="1.4"/>
<path d="M62.3 435.90 62.9 435.90 63.5 435.94 64.1 436.45 64.7 437.31 65.3 438.19 65.9 438.78 66.5 438.59 67.1 436.73 67.7 434.00 68.3 431.37 68.9 429.78 69.5 429.77 70.1 430.29 70.7 431.13 71.3 432.21 71.9 433.39 72.5 434.58 73.1 435.87 73.7 437.69 74.3 439.78 74.9 441.81 75.5 443.47 76.1 444.45 76.7 444.29 77.3 442.12 77.9 438.51 78.5 434.24 79.1 430.08 79.7 426.73 80.3 424.91 80.9 425.06 81.5 426.44 82.1 428.71 82.7 431.57 83.3 434.75 83.9 437.98 84.5 440.98 85.1 443.41 85.7 444.99 86.3 445.42 86.9 444.64 87.5 442.90 88.1 440.50 88.7 437.71 89.3 434.85 89.9 432.21 90.5 430.04 91.1 428.62 91.7 428.22 92.3 428.84 92.9 430.23 93.5 432.16 94.1 434.40 94.7 436.76 95.3 439.01 95.9 440.90 96.5 442.20 97.1 442.68 97.7 442.07 98.3 440.49 98.9 438.32 99.5 435.96 100.1 433.84 100.7 432.29 101.3 431.54 101.9 430.97 102.5 430.46 103.1 430.06 103.7 429.78 104.3 429.66 104.9 430.24 105.5 432.20 106.1 435.05 106.7 438.32 107.3 441.48 107.9 443.99 108.5 445.34 109.1 444.58 109.7 440.78 110.3 435.33 110.9 429.85 111.5 425.75 112.1 424.52 112.7 427.04 113.3 432.10 113.9 438.14 114.5 443.57 115.1 446.68 115.7 446.37 116.3 443.88 116.9 440.22 117.5 436.34 118.1 433.20 118.7 431.67 119.3 432.46 119.9 434.80 120.5 437.28 121.1 438.44 121.7 436.95 122.3 433.48 122.9 429.45 123.5 426.23 124.1 425.26 124.7 428.08 125.3 433.76 125.9 440.57 126.5 446.66 127.1 450.15 127.7 449.46 128.3 445.23 128.9 439.24 129.5 433.29 130.1 429.15 130.7 428.40 131.3 430.70 131.9 434.02 132.5 436.34 133.1 435.72 133.7 432.22 134.3 427.31 134.9 422.53 135.5 419.41 136.1 419.43 136.7 422.84 137.3 428.59 137.9 435.56 138.5 442.75 139.1 448.90 139.7 452.85 140.3 453.62 140.9 452.43 141.5 450.09 142.1 446.92 142.7 443.27 143.3 439.45 143.9 435.80 144.5 432.69 145.1 430.40 145.7 429.22 146.3 429.40 146.9 430.62 147.5 432.47 148.1 434.58 148.7 436.57 149.3 438.07 149.9 438.66 150.5 438.16 151.1 436.89 151.7 435.17 152.3 433.31 152.9 431.60 153.5 430.35 154.1 429.87 154.7 430.59 155.3 432.46 155.9 435.03 156.5 437.90 157.1 440.60 157.7 442.65 158.3 443.62 158.9 443.29 159.5 442.13 160.1 440.44 160.7 438.49 161.3 436.59 161.9 435.03 162.5 434.10 163.1 433.73 163.7 433.40 164.3 433.11 164.9 432.88 165.5 432.71 166.1 432.60 166.7 432.58 167.3 432.90 167.9 433.61 168.5 434.57 169.1 435.63 169.7 436.69 170.3 437.58 170.9 438.20 171.5 438.76 172.1 439.30 172.7 439.75 173.3 440.05 173.9 440.12 174.5 439.27 175.1 437.45 175.7 435.08 176.3 432.57 176.9 430.29 177.5 428.64 178.1 428.00 178.7 428.74 179.3 430.69 179.9 433.39 180.5 436.39 181.1 439.29 181.7 441.58 182.3 442.81 182.9 442.74 183.5 441.99 184.1 440.77 184.7 439.24 185.3 437.58 185.9 435.95 186.5 434.53 187.1 433.47 187.7 432.92 188.3 433.16 188.9 434.44 189.5 436.47 190.1 438.96 190.7 441.53 191.3 443.85 191.9 445.58 192.5 446.38 193.1 445.72 193.7 443.41 194.3 439.96 194.9 435.91 195.5 431.84 196.1 428.21 196.7 425.52 197.3 424.28 197.9 424.27 198.5 424.49 199.1 425.15" stroke-width="1.7"/>
</g>
</g>
<rect x="43.5" y="14.5" width="155.6" height="478.4" fill="none" stroke="#555" stroke-width="1.4" rx="1"/>
<line x1="95.4" y1="14.5" x2="95.4" y2="18.5" stroke="#555" stroke-width="1"/>
<line x1="95.4" y1="492.9" x2="95.4" y2="488.9" stroke="#555" stroke-width="1"/>
<line x1="147.2" y1="14.5" x2="147.2" y2="18.5" stroke="#555" stroke-width="1"/>
<line x1="147.2" y1="492.9" x2="147.2" y2="488.9" stroke="#555" stroke-width="1"/>
<g clip-path="url(#cb)" fill="none" stroke-linejoin="round" stroke-linecap="round">
<g stroke="#2626c2">
<path d="M211.0 52.70L225.5 52.70" stroke-width="1.5"/>
<path d="M225.0 52.70 225.6 52.70 226.2 52.70 226.8 52.74 227.4 52.80 228.0 52.89 228.6 52.99 229.2 53.09 229.8 53.20 230.4 53.29 231.0 53.36 231.6 53.39 232.2 53.37 232.8 53.20 233.4 52.94 234.0 52.66 234.6 52.43 235.2 52.20 235.8 51.95 236.4 51.71 237.0 51.47 237.6 51.27 238.2 51.11 238.8 51.02 239.4 51.02 240.0 51.31 240.6 51.85 241.2 52.52 241.8 53.23 242.4 53.85 243.0 54.27 243.6 54.40 244.2 54.27 244.8 53.97 245.4 53.54 246.0 53.01 246.6 52.42 247.2 51.80 247.8 51.18 248.4 50.60 249.0 50.10 249.6 49.71 250.2 49.47 250.8 49.41 251.4 50.02 252.0 51.29 252.6 52.92 253.2 54.60 253.8 56.02 254.4 56.88 255.0 56.94 255.6 56.50 256.2 55.72 256.8 54.68 257.4 53.49 258.0 52.23 258.6 51.00 259.2 49.90 259.8 49.02 260.4 48.46 261.0 48.31 261.6 48.77 262.2 49.79 262.8 51.18 263.4 52.76 264.0 54.37 264.6 55.80 265.2 56.89 265.8 57.46 266.4 57.44 267.0 57.15 267.6 56.64 268.2 55.97 268.8 55.16 269.4 54.26 270.0 53.31 270.6 52.33 271.2 51.38 271.8 50.50 272.4 49.71 273.0 49.06 273.6 48.59 274.2 48.33 274.8 48.38 275.4 48.98 276.0 50.05 276.6 51.46 277.2 53.10 277.8 54.84 278.4 56.54 279.0 58.08 279.6 59.34 280.2 60.19 280.8 60.50 281.4 59.90 282.0 58.30 282.6 55.98 283.2 53.21 283.8 50.28 284.4 47.46 285.0 45.04 285.6 43.30 286.2 42.52 286.8 43.02 287.4 44.86 288.0 47.69 288.6 51.21 289.2 55.07 289.8 58.97 290.4 62.56 291.0 65.53 291.6 67.55 292.2 68.30 292.8 66.83 293.4 63.02 294.0 57.75 294.6 51.88 295.2 46.32 295.8 41.92 296.4 39.57 297.0 39.93 297.6 42.30 298.2 45.82 298.8 49.62 299.4 52.86 300.0 54.66 300.6 54.27 301.2 52.14 301.8 49.66 302.4 48.24 303.0 49.04 303.6 51.77 304.2 55.58 304.8 59.60 305.4 62.98 306.0 64.86 306.6 64.76 307.2 63.56 307.8 61.55 308.4 58.91 309.0 55.85 309.6 52.56 310.2 49.23 310.8 46.07 311.4 43.27 312.0 41.03 312.6 39.54 313.2 39.00 313.8 40.34 314.4 43.86 315.0 48.84 315.6 54.55 316.2 60.26 316.8 65.24 317.4 68.76 318.0 70.10 318.6 69.35 319.2 67.30 319.8 64.29 320.4 60.63 321.0 56.65 321.6 52.67 322.2 49.01 322.8 46.00 323.4 43.95 324.0 43.20 324.6 43.53 325.2 44.44 325.8 45.79 326.4 47.45 327.0 49.31 327.6 51.21 328.2 53.04 328.8 54.66 329.4 55.95 330.0 56.77 330.6 56.99 331.2 56.64 331.8 55.83 332.4 54.69 333.0 53.32 333.6 51.83 334.2 50.33 334.8 48.93 335.4 47.74 336.0 46.87 336.6 46.43 337.2 46.65 337.8 47.83 338.4 49.67 339.0 51.86 339.6 54.08 340.2 56.00 340.8 57.31 341.4 57.69 342.0 57.05 342.6 55.65 343.2 53.73 343.8 51.54 344.4 49.33 345.0 47.35 345.6 45.84 346.2 45.06 346.8 45.22 347.4 46.28 348.0 48.03 348.6 50.28 349.2 52.81 349.8 55.43 350.4 57.92 351.0 60.10 351.6 61.75 352.2 62.68 352.8 62.62 353.4 61.27 354.0 58.89 354.6 55.82 355.2 52.39 355.8 48.93 356.4 45.78 357.0 43.27 357.6 41.72 358.2 41.44 358.8 42.01 359.4 43.15 360.0 44.76 360.6 46.71 361.2 48.90 361.8 51.20 362.4 53.50 363.0 55.69 363.6 57.64 364.2 59.25 364.8 60.39 365.4 60.96 366.0 60.93 366.6 60.57" stroke-width="1.9"/>
<path d="M211.0 90.80L225.5 90.80" stroke-width="1.5"/>
<path d="M225.0 90.80 225.6 90.80 226.2 90.80 226.8 90.84 227.4 90.90 228.0 90.99 228.6 91.09 229.2 91.20 229.8 91.30 230.4 91.39 231.0 91.46 231.6 91.50 232.2 91.48 232.8 91.31 233.4 91.04 234.0 90.76 234.6 90.54 235.2 90.32 235.8 90.08 236.4 89.84 237.0 89.62 237.6 89.42 238.2 89.27 238.8 89.18 239.4 89.18 240.0 89.46 240.6 89.98 241.2 90.63 241.8 91.33 242.4 91.96 243.0 92.39 243.6 92.52 244.2 92.39 244.8 92.09 245.4 91.65 246.0 91.11 246.6 90.53 247.2 89.93 247.8 89.33 248.4 88.78 249.0 88.30 249.6 87.92 250.2 87.68 250.8 87.63 251.4 88.21 252.0 89.44 252.6 91.02 253.2 92.72 253.8 94.16 254.4 95.03 255.0 95.09 255.6 94.65 256.2 93.85 256.8 92.81 257.4 91.60 258.0 90.35 258.6 89.16 259.2 88.10 259.8 87.25 260.4 86.71 261.0 86.56 261.6 87.01 262.2 87.99 262.8 89.33 263.4 90.87 264.0 92.49 264.6 93.94 265.2 95.04 265.8 95.62 266.4 95.60 267.0 95.30 267.6 94.79 268.2 94.11 268.8 93.29 269.4 92.38 270.0 91.41 270.6 90.45 271.2 89.53 271.8 88.67 272.4 87.91 273.0 87.29 273.6 86.83 274.2 86.59 274.8 86.63 275.4 87.21 276.0 88.24 276.6 89.61 277.2 91.21 277.8 92.96 278.4 94.68 279.0 96.25 279.6 97.52 280.2 98.38 280.8 98.69 281.4 98.09 282.0 96.47 282.6 94.12 283.2 91.32 283.8 88.46 284.4 85.74 285.0 83.41 285.6 81.73 286.2 80.97 286.8 81.46 287.4 83.23 288.0 85.97 288.6 89.36 289.2 93.20 289.8 97.14 290.4 100.78 291.0 103.79 291.6 105.83 292.2 106.59 292.8 105.10 293.4 101.25 294.0 95.91 294.6 90.01 295.2 84.64 295.8 80.40 296.4 78.13 297.0 78.48 297.6 80.77 298.2 84.16 298.8 87.83 299.4 90.96 300.0 92.79 300.6 92.39 301.2 90.26 301.8 87.87 302.4 86.49 303.0 87.27 303.6 89.90 304.2 93.72 304.8 97.79 305.4 101.21 306.0 103.10 306.6 103.00 307.2 101.79 307.8 99.75 308.4 97.08 309.0 93.99 309.6 90.66 310.2 87.45 310.8 84.41 311.4 81.70 312.0 79.54 312.6 78.10 313.2 77.58 313.8 78.87 314.4 82.27 315.0 87.08 315.6 92.67 316.2 98.45 316.8 103.49 317.4 107.06 318.0 108.41 318.6 107.65 319.2 105.58 319.8 102.53 320.4 98.83 321.0 94.80 321.6 90.77 322.2 87.24 322.8 84.33 323.4 82.36 324.0 81.63 324.6 81.95 325.2 82.83 325.8 84.13 326.4 85.74 327.0 87.52 327.6 89.36 328.2 91.14 328.8 92.79 329.4 94.09 330.0 94.92 330.6 95.14 331.2 94.78 331.8 93.97 332.4 92.81 333.0 91.42 333.6 89.96 334.2 88.51 334.8 87.16 335.4 86.01 336.0 85.17 336.6 84.75 337.2 84.96 337.8 86.10 338.4 87.88 339.0 89.99 339.6 92.20 340.2 94.14 340.8 95.47 341.4 95.85 342.0 95.20 342.6 93.78 343.2 91.84 343.8 89.68 344.4 87.55 345.0 85.63 345.6 84.18 346.2 83.42 346.8 83.58 347.4 84.60 348.0 86.29 348.6 88.46 349.2 90.91 349.8 93.56 350.4 96.09 351.0 98.29 351.6 99.96 352.2 100.89 352.8 100.83 353.4 99.47 354.0 97.07 354.6 93.96 355.2 90.50 355.8 87.16 356.4 84.12 357.0 81.70 357.6 80.21 358.2 79.93 358.8 80.48 359.4 81.58 360.0 83.14 360.6 85.02 361.2 87.13 361.8 89.35 362.4 91.61 363.0 93.82 363.6 95.80 364.2 97.43 364.8 98.59 365.4 99.16 366.0 99.12 366.6 98.77" stroke-width="1.9"/>
<path d="M211.0 128.50L225.5 128.50" stroke-width="1.5"/>
<path d="M225.0 128.50 225.6 128.50 226.2 128.50 226.8 128.54 227.4 128.60 228.0 128.69 228.6 128.79 229.2 128.90 229.8 129.01 230.4 129.10 231.0 129.17 231.6 129.21 232.2 129.19 232.8 129.02 233.4 128.74 234.0 128.46 234.6 128.25 235.2 128.04 235.8 127.81 236.4 127.58 237.0 127.36 237.6 127.17 238.2 127.02 238.8 126.94 239.4 126.94 240.0 127.21 240.6 127.71 241.2 128.33 241.8 129.04 242.4 129.67 243.0 130.11 243.6 130.24 244.2 130.11 244.8 129.80 245.4 129.36 246.0 128.82 246.6 128.24 247.2 127.66 247.8 127.09 248.4 126.55 249.0 126.09 249.6 125.72 250.2 125.50 250.8 125.44 251.4 126.00 252.0 127.19 252.6 128.72 253.2 130.44 253.8 131.90 254.4 132.78 255.0 132.84 255.6 132.39 256.2 131.59 256.8 130.53 257.4 129.31 258.0 128.06 258.6 126.92 259.2 125.90 259.8 125.08 260.4 124.56 261.0 124.42 261.6 124.85 262.2 125.79 262.8 127.09 263.4 128.57 264.0 130.21 264.6 131.68 265.2 132.79 265.8 133.37 266.4 133.35 267.0 133.05 267.6 132.54 268.2 131.85 268.8 131.02 269.4 130.10 270.0 129.12 270.6 128.16 271.2 127.28 271.8 126.45 272.4 125.72 273.0 125.11 273.6 124.68 274.2 124.44 274.8 124.48 275.4 125.04 276.0 126.03 276.6 127.35 277.2 128.91 277.8 130.69 278.4 132.43 279.0 134.01 279.6 135.30 280.2 136.17 280.8 136.49 281.4 135.88 282.0 134.24 282.6 131.86 283.2 129.02 283.8 126.25 284.4 123.63 285.0 121.38 285.6 119.76 286.2 119.03 286.8 119.50 287.4 121.21 288.0 123.84 288.6 127.11 289.2 130.93 289.8 134.92 290.4 138.60 291.0 141.64 291.6 143.71 292.2 144.47 292.8 142.97 293.4 139.07 294.0 133.67 294.6 127.74 295.2 122.56 295.8 118.47 296.4 116.29 297.0 116.62 297.6 118.83 298.2 122.10 298.8 125.64 299.4 128.66 300.0 130.51 300.6 130.11 301.2 127.98 301.8 125.67 302.4 124.35 303.0 125.09 303.6 127.64 304.2 131.45 304.8 135.57 305.4 139.03 306.0 140.95 306.6 140.84 307.2 139.62 307.8 137.56 308.4 134.86 309.0 131.72 309.6 128.37 310.2 125.28 310.8 122.34 311.4 119.73 312.0 117.65 312.6 116.26 313.2 115.76 313.8 117.00 314.4 120.28 315.0 124.91 315.6 130.39 316.2 136.24 316.8 141.34 317.4 144.95 318.0 146.32 318.6 145.55 319.2 143.45 319.8 140.37 320.4 136.62 321.0 132.54 321.6 128.47 322.2 125.07 322.8 122.27 323.4 120.37 324.0 119.67 324.6 119.97 325.2 120.82 325.8 122.07 326.4 123.62 327.0 125.34 327.6 127.11 328.2 128.85 328.8 130.51 329.4 131.83 330.0 132.67 330.6 132.90 331.2 132.53 331.8 131.71 332.4 130.54 333.0 129.13 333.6 127.69 334.2 126.29 334.8 124.99 335.4 123.89 336.0 123.08 336.6 122.67 337.2 122.88 337.8 123.97 338.4 125.68 339.0 127.72 339.6 129.91 340.2 131.88 340.8 133.22 341.4 133.61 342.0 132.95 342.6 131.52 343.2 129.55 343.8 127.42 344.4 125.36 345.0 123.52 345.6 122.12 346.2 121.39 346.8 121.54 347.4 122.53 348.0 124.16 348.6 126.25 349.2 128.61 349.8 131.29 350.4 133.85 351.0 136.08 351.6 137.77 352.2 138.71 352.8 138.65 353.4 137.27 354.0 134.84 354.6 131.70 355.2 128.21 355.8 125.00 356.4 122.06 357.0 119.73 357.6 118.29 358.2 118.03 358.8 118.55 359.4 119.62 360.0 121.11 360.6 122.93 361.2 124.96 361.8 127.10 362.4 129.32 363.0 131.56 363.6 133.56 364.2 135.21 364.8 136.38 365.4 136.96 366.0 136.92 366.6 136.56" stroke-width="1.9"/>
<path d="M211.0 166.50L225.5 166.50" stroke-width="1.5"/>
<path d="M225.0 166.50 225.6 166.50 226.2 166.50 226.8 166.54 227.4 166.60 228.0 166.69 228.6 166.80 229.2 166.91 229.8 167.01 230.4 167.11 231.0 167.18 231.6 167.22 232.2 167.20 232.8 167.02 233.4 166.75 234.0 166.46 234.6 166.26 235.2 166.05 235.8 165.83 236.4 165.61 237.0 165.40 237.6 165.22 238.2 165.08 238.8 165.00 239.4 165.00 240.0 165.26 240.6 165.74 241.2 166.34 241.8 167.04 242.4 167.69 243.0 168.13 243.6 168.26 244.2 168.12 244.8 167.82 245.4 167.37 246.0 166.82 246.6 166.25 247.2 165.69 247.8 165.14 248.4 164.62 249.0 164.18 249.6 163.83 250.2 163.61 250.8 163.56 251.4 164.10 252.0 165.23 252.6 166.72 253.2 168.46 253.8 169.94 254.4 170.83 255.0 170.89 255.6 170.44 256.2 169.63 256.8 168.55 257.4 167.32 258.0 166.08 258.6 164.98 259.2 164.00 259.8 163.21 260.4 162.71 261.0 162.57 261.6 162.98 262.2 163.89 262.8 165.14 263.4 166.57 264.0 168.23 264.6 169.71 265.2 170.84 265.8 171.43 266.4 171.41 267.0 171.11 267.6 170.59 268.2 169.89 268.8 169.05 269.4 168.12 270.0 167.13 270.6 166.17 271.2 165.32 271.8 164.53 272.4 163.82 273.0 163.24 273.6 162.82 274.2 162.59 274.8 162.63 275.4 163.17 276.0 164.12 276.6 165.39 277.2 166.92 277.8 168.71 278.4 170.48 279.0 172.08 279.6 173.38 280.2 174.26 280.8 174.58 281.4 173.96 282.0 172.31 282.6 169.90 283.2 167.03 283.8 164.33 284.4 161.81 285.0 159.65 285.6 158.09 286.2 157.39 286.8 157.84 287.4 159.48 288.0 162.02 288.6 165.16 289.2 168.96 289.8 172.99 290.4 176.72 291.0 179.79 291.6 181.89 292.2 182.66 292.8 181.14 293.4 177.20 294.0 171.73 294.6 165.77 295.2 160.79 295.8 156.85 296.4 154.75 297.0 155.07 297.6 157.20 298.2 160.34 298.8 163.75 299.4 166.66 300.0 168.53 300.6 168.13 301.2 166.00 301.8 163.78 302.4 162.51 303.0 163.22 303.6 165.67 304.2 169.48 304.8 173.65 305.4 177.15 306.0 179.10 306.6 178.99 307.2 177.75 307.8 175.66 308.4 172.93 309.0 169.76 309.6 166.37 310.2 163.40 310.8 160.57 311.4 158.06 312.0 156.06 312.6 154.72 313.2 154.24 313.8 155.43 314.4 158.59 315.0 163.05 315.6 168.42 316.2 174.33 316.8 179.49 317.4 183.14 318.0 184.53 318.6 183.75 319.2 181.63 319.8 178.51 320.4 174.72 321.0 170.59 321.6 166.47 322.2 163.20 322.8 160.50 323.4 158.67 324.0 158.00 324.6 158.29 325.2 159.10 325.8 160.31 326.4 161.81 327.0 163.46 327.6 165.17 328.2 166.85 328.8 168.53 329.4 169.87 330.0 170.71 330.6 170.95 331.2 170.58 331.8 169.74 332.4 168.56 333.0 167.14 333.6 165.72 334.2 164.38 334.8 163.12 335.4 162.06 336.0 161.28 336.6 160.89 337.2 161.09 337.8 162.14 338.4 163.79 339.0 165.75 339.6 167.93 340.2 169.92 340.8 171.28 341.4 171.67 342.0 171.00 342.6 169.55 343.2 167.56 343.8 165.46 344.4 163.48 345.0 161.71 345.6 160.36 346.2 159.66 346.8 159.81 347.4 160.75 348.0 162.32 348.6 164.33 349.2 166.61 349.8 169.32 350.4 171.91 351.0 174.17 351.6 175.88 352.2 176.83 352.8 176.77 353.4 175.38 354.0 172.92 354.6 169.74 355.2 166.22 355.8 163.13 356.4 160.31 357.0 158.06 357.6 156.68 358.2 156.42 358.8 156.93 359.4 157.95 360.0 159.39 360.6 161.14 361.2 163.10 361.8 165.16 362.4 167.33 363.0 169.60 363.6 171.62 364.2 173.29 364.8 174.47 365.4 175.06 366.0 175.02 366.6 174.66" stroke-width="1.9"/>
<path d="M211.0 204.60L225.5 204.60" stroke-width="1.5"/>
<path d="M225.0 204.60 225.6 204.60 226.2 204.60 226.8 204.64 227.4 204.70 228.0 204.80 228.6 204.90 229.2 205.01 229.8 205.12 230.4 205.22 231.0 205.29 231.6 205.33 232.2 205.31 232.8 205.13 233.4 204.85 234.0 204.56 234.6 204.37 235.2 204.17 235.8 203.96 236.4 203.75 237.0 203.54 237.6 203.37 238.2 203.23 238.8 203.15 239.4 203.16 240.0 203.40 240.6 203.87 241.2 204.45 241.8 205.15 242.4 205.80 243.0 206.25 243.6 206.38 244.2 206.24 244.8 205.93 245.4 205.48 246.0 204.93 246.6 204.36 247.2 203.82 247.8 203.29 248.4 202.80 249.0 202.37 249.6 202.03 250.2 201.82 250.8 201.77 251.4 202.29 252.0 203.38 252.6 204.83 253.2 206.59 253.8 208.08 254.4 208.98 255.0 209.04 255.6 208.59 256.2 207.76 256.8 206.68 257.4 205.43 258.0 204.20 258.6 203.14 259.2 202.20 259.8 201.44 260.4 200.95 261.0 200.83 261.6 201.22 262.2 202.10 262.8 203.29 263.4 204.67 264.0 206.35 264.6 207.85 265.2 208.99 265.8 209.59 266.4 209.57 267.0 209.26 267.6 208.73 268.2 208.03 268.8 207.18 269.4 206.24 270.0 205.23 270.6 204.28 271.2 203.47 271.8 202.70 272.4 202.03 273.0 201.47 273.6 201.06 274.2 200.84 274.8 200.89 275.4 201.40 276.0 202.32 276.6 203.54 277.2 205.02 277.8 206.84 278.4 208.62 279.0 210.24 279.6 211.56 280.2 212.45 280.8 212.77 281.4 212.15 282.0 210.47 282.6 208.04 283.2 205.13 283.8 202.52 284.4 200.09 285.0 198.01 285.6 196.52 286.2 195.84 286.8 196.28 287.4 197.85 288.0 200.29 288.6 203.31 289.2 207.09 289.8 211.17 290.4 214.93 291.0 218.05 291.6 220.17 292.2 220.95 292.8 219.41 293.4 215.42 294.0 209.89 294.6 203.90 295.2 199.11 295.8 195.33 296.4 193.31 297.0 193.62 297.6 195.66 298.2 198.68 298.8 201.95 299.4 204.76 300.0 206.66 300.6 206.25 301.2 204.12 301.8 201.99 302.4 200.76 303.0 201.45 303.6 203.80 304.2 207.62 304.8 211.84 305.4 215.38 306.0 217.34 306.6 217.23 307.2 215.98 307.8 213.87 308.4 211.11 309.0 207.90 309.6 204.48 310.2 201.62 310.8 198.90 311.4 196.49 312.0 194.56 312.6 193.28 313.2 192.82 313.8 193.97 314.4 197.00 315.0 201.28 315.6 206.54 316.2 212.52 316.8 217.74 317.4 221.43 318.0 222.84 318.6 222.05 319.2 219.90 319.8 216.75 320.4 212.91 321.0 208.74 321.6 204.57 322.2 201.43 322.8 198.84 323.4 197.08 324.0 196.43 324.6 196.71 325.2 197.49 325.8 198.66 326.4 200.09 327.0 201.68 327.6 203.32 328.2 204.96 328.8 206.66 329.4 208.00 330.0 208.86 330.6 209.10 331.2 208.73 331.8 207.88 332.4 206.68 333.0 205.25 333.6 203.85 334.2 202.56 334.8 201.35 335.4 200.33 336.0 199.59 336.6 199.21 337.2 199.40 337.8 200.41 338.4 201.99 339.0 203.88 339.6 206.05 340.2 208.06 340.8 209.43 341.4 209.82 342.0 209.16 342.6 207.69 343.2 205.67 343.8 203.60 344.4 201.70 345.0 200.00 345.6 198.70 346.2 198.03 346.8 198.17 347.4 199.08 348.0 200.59 348.6 202.52 349.2 204.71 349.8 207.46 350.4 210.07 351.0 212.36 351.6 214.09 352.2 215.05 352.8 214.99 353.4 213.58 354.0 211.09 354.6 207.87 355.2 204.33 355.8 201.36 356.4 198.65 357.0 196.49 357.6 195.16 358.2 194.92 358.8 195.40 359.4 196.39 360.0 197.77 360.6 199.45 361.2 201.33 361.8 203.31 362.4 205.44 363.0 207.73 363.6 209.78 364.2 211.46 364.8 212.66 365.4 213.26 366.0 213.22 366.6 212.85" stroke-width="1.9"/>
<path d="M211.0 244.30L225.5 244.30" stroke-width="1.5"/>
<path d="M225.0 244.30 225.6 244.30 226.2 244.30 226.8 244.34 227.4 244.41 228.0 244.50 228.6 244.61 229.2 244.72 229.8 244.83 230.4 244.92 231.0 245.00 231.6 245.04 232.2 245.02 232.8 244.83 233.4 244.55 234.0 244.26 234.6 244.08 235.2 243.89 235.8 243.69 236.4 243.48 237.0 243.29 237.6 243.12 238.2 242.99 238.8 242.91 239.4 242.92 240.0 243.15 240.6 243.60 241.2 244.15 241.8 244.86 242.4 245.52 243.0 245.97 243.6 246.10 244.2 245.96 244.8 245.65 245.4 245.19 246.0 244.63 246.6 244.07 247.2 243.55 247.8 243.05 248.4 242.57 249.0 242.16 249.6 241.84 250.2 241.63 250.8 241.59 251.4 242.09 252.0 243.13 252.6 244.53 253.2 246.31 253.8 247.82 254.4 248.73 255.0 248.80 255.6 248.33 256.2 247.50 256.8 246.40 257.4 245.13 258.0 243.91 258.6 242.90 259.2 241.99 259.8 241.27 260.4 240.80 261.0 240.68 261.6 241.06 262.2 241.90 262.8 243.05 263.4 244.37 264.0 246.07 264.6 247.59 265.2 248.74 265.8 249.34 266.4 249.33 267.0 249.01 267.6 248.48 268.2 247.77 268.8 246.91 269.4 245.96 270.0 244.94 270.6 244.00 271.2 243.21 271.8 242.48 272.4 241.83 273.0 241.30 273.6 240.91 274.2 240.70 274.8 240.74 275.4 241.23 276.0 242.11 276.6 243.28 277.2 244.73 277.8 246.56 278.4 248.37 279.0 250.00 279.6 251.34 280.2 252.24 280.8 252.57 281.4 251.94 282.0 250.24 282.6 247.77 283.2 244.84 283.8 242.30 284.4 239.98 285.0 237.98 285.6 236.55 286.2 235.90 286.8 236.32 287.4 237.83 288.0 240.17 288.6 243.07 289.2 246.81 289.8 250.94 290.4 254.75 291.0 257.90 291.6 260.05 292.2 260.84 292.8 259.28 293.4 255.24 294.0 249.65 294.6 243.63 295.2 239.03 295.8 235.41 296.4 233.47 297.0 233.76 297.6 235.72 298.2 238.63 298.8 241.76 299.4 244.47 300.0 246.38 300.6 245.96 301.2 243.84 301.8 241.79 302.4 240.62 303.0 241.28 303.6 243.53 304.2 247.35 304.8 251.62 305.4 255.20 306.0 257.19 306.6 257.08 307.2 255.81 307.8 253.68 308.4 250.88 309.0 247.64 309.6 244.18 310.2 241.44 310.8 238.83 311.4 236.52 312.0 234.67 312.6 233.44 313.2 233.00 313.8 234.10 314.4 237.01 315.0 241.12 315.6 246.26 316.2 252.31 316.8 257.59 317.4 261.33 318.0 262.74 318.6 261.95 319.2 259.78 319.8 256.58 320.4 252.71 321.0 248.49 321.6 244.27 322.2 241.26 322.8 238.77 323.4 237.08 324.0 236.46 324.6 236.74 325.2 237.48 325.8 238.60 326.4 239.97 327.0 241.50 327.6 243.07 328.2 244.66 328.8 246.38 329.4 247.74 330.0 248.61 330.6 248.85 331.2 248.47 331.8 247.62 332.4 246.41 333.0 244.95 333.6 243.58 334.2 242.34 334.8 241.19 335.4 240.21 336.0 239.49 336.6 239.13 337.2 239.31 337.8 240.28 338.4 241.80 339.0 243.61 339.6 245.76 340.2 247.80 340.8 249.19 341.4 249.58 342.0 248.91 342.6 247.42 343.2 245.39 343.8 243.34 344.4 241.52 345.0 239.88 345.6 238.64 346.2 237.99 346.8 238.13 347.4 239.00 348.0 240.45 348.6 242.30 349.2 244.41 349.8 247.19 350.4 249.84 351.0 252.14 351.6 253.90 352.2 254.87 352.8 254.81 353.4 253.38 354.0 250.86 354.6 247.61 355.2 244.05 355.8 241.19 356.4 238.59 357.0 236.52 357.6 235.24 358.2 235.01 358.8 235.48 359.4 236.42 360.0 237.75 360.6 239.36 361.2 241.16 361.8 243.06 362.4 245.15 363.0 247.47 363.6 249.54 364.2 251.24 364.8 252.46 365.4 253.06 366.0 253.02 366.6 252.64" stroke-width="1.9"/>
<path d="M211.0 281.90L225.5 281.90" stroke-width="1.5"/>
<path d="M225.0 281.90 225.6 281.90 226.2 281.90 226.8 281.94 227.4 282.01 228.0 282.10 228.6 282.21 229.2 282.32 229.8 282.43 230.4 282.53 231.0 282.60 231.6 282.64 232.2 282.62 232.8 282.44 233.4 282.16 234.0 281.87 234.6 281.69 235.2 281.51 235.8 281.31 236.4 281.12 237.0 280.93 237.6 280.77 238.2 280.65 238.8 280.57 239.4 280.57 240.0 280.80 240.6 281.23 241.2 281.76 241.8 282.46 242.4 283.13 243.0 283.59 243.6 283.72 244.2 283.58 244.8 283.26 245.4 282.80 246.0 282.23 246.6 281.68 247.2 281.19 247.8 280.70 248.4 280.24 249.0 279.85 249.6 279.54 250.2 279.35 250.8 279.30 251.4 279.78 252.0 280.78 252.6 282.13 253.2 283.93 253.8 285.46 254.4 286.38 255.0 286.45 255.6 285.98 256.2 285.14 256.8 284.02 257.4 282.74 258.0 281.53 258.6 280.56 259.2 279.69 259.8 279.00 260.4 278.55 261.0 278.43 261.6 278.80 262.2 279.60 262.8 280.70 263.4 281.97 264.0 283.69 264.6 285.22 265.2 286.39 265.8 287.00 266.4 286.98 267.0 286.67 267.6 286.13 268.2 285.41 268.8 284.54 269.4 283.57 270.0 282.55 270.6 281.61 271.2 280.86 271.8 280.16 272.4 279.54 273.0 279.02 273.6 278.65 274.2 278.45 274.8 278.49 275.4 278.96 276.0 279.80 276.6 280.92 277.2 282.33 277.8 284.19 278.4 286.01 279.0 287.67 279.6 289.02 280.2 289.93 280.8 290.26 281.4 289.62 282.0 287.91 282.6 285.41 283.2 282.45 283.8 279.99 284.4 277.76 285.0 275.85 285.6 274.47 286.2 273.86 286.8 274.26 287.4 275.70 288.0 277.94 288.6 280.72 289.2 284.44 289.8 288.62 290.4 292.47 291.0 295.66 291.6 297.82 292.2 298.62 292.8 297.05 293.4 292.97 294.0 287.31 294.6 281.26 295.2 276.86 295.8 273.38 296.4 271.53 297.0 271.81 297.6 273.69 298.2 276.47 298.8 279.47 299.4 282.07 300.0 284.00 300.6 283.58 301.2 281.46 301.8 279.50 302.4 278.37 303.0 279.01 303.6 281.17 304.2 284.99 304.8 289.30 305.4 292.92 306.0 294.93 306.6 294.82 307.2 293.54 307.8 291.38 308.4 288.56 309.0 285.27 309.6 281.79 310.2 279.16 310.8 276.66 311.4 274.45 312.0 272.68 312.6 271.50 313.2 271.08 313.8 272.13 314.4 274.92 315.0 278.85 315.6 283.88 316.2 290.00 316.8 295.34 317.4 299.12 318.0 300.55 318.6 299.75 319.2 297.55 319.8 294.32 320.4 290.40 321.0 286.13 321.6 281.88 322.2 278.99 322.8 276.61 323.4 274.99 324.0 274.39 324.6 274.66 325.2 275.37 325.8 276.44 326.4 277.76 327.0 279.22 327.6 280.72 328.2 282.26 328.8 284.00 329.4 285.38 330.0 286.26 330.6 286.50 331.2 286.12 331.8 285.26 332.4 284.03 333.0 282.56 333.6 281.21 334.2 280.02 334.8 278.92 335.4 277.98 336.0 277.29 336.6 276.95 337.2 277.12 337.8 278.05 338.4 279.51 339.0 281.24 339.6 283.38 340.2 285.44 340.8 286.84 341.4 287.24 342.0 286.56 342.6 285.06 343.2 283.00 343.8 280.98 344.4 279.24 345.0 277.67 345.6 276.48 346.2 275.86 346.8 275.99 347.4 276.83 348.0 278.21 348.6 279.98 349.2 282.02 349.8 284.82 350.4 287.50 351.0 289.83 351.6 291.60 352.2 292.59 352.8 292.53 353.4 291.09 354.0 288.54 354.6 285.25 355.2 281.66 355.8 278.92 356.4 276.43 357.0 274.45 357.6 273.23 358.2 273.00 358.8 273.45 359.4 274.36 360.0 275.63 360.6 277.17 361.2 278.90 361.8 280.71 362.4 282.76 363.0 285.10 363.6 287.20 364.2 288.92 364.8 290.15 365.4 290.75 366.0 290.72 366.6 290.34" stroke-width="1.9"/>
<path d="M211.0 319.50L225.5 319.50" stroke-width="1.5"/>
<path d="M225.0 319.50 225.6 319.50 226.2 319.50 226.8 319.54 227.4 319.61 228.0 319.70 228.6 319.81 229.2 319.93 229.8 320.04 230.4 320.14 231.0 320.21 231.6 320.25 232.2 320.23 232.8 320.05 233.4 319.76 234.0 319.47 234.6 319.30 235.2 319.12 235.8 318.94 236.4 318.75 237.0 318.57 237.6 318.42 238.2 318.30 238.8 318.23 239.4 318.23 240.0 318.45 240.6 318.86 241.2 319.37 241.8 320.07 242.4 320.74 243.0 321.20 243.6 321.34 244.2 321.20 244.8 320.88 245.4 320.41 246.0 319.84 246.6 319.29 247.2 318.82 247.8 318.35 248.4 317.92 249.0 317.54 249.6 317.25 250.2 317.06 250.8 317.02 251.4 317.47 252.0 318.43 252.6 319.73 253.2 321.55 253.8 323.10 254.4 324.03 255.0 324.10 255.6 323.62 256.2 322.77 256.8 321.65 257.4 320.35 258.0 319.14 258.6 318.22 259.2 317.39 259.8 316.72 260.4 316.30 261.0 316.19 261.6 316.53 262.2 317.30 262.8 318.35 263.4 319.57 264.0 321.31 264.6 322.86 265.2 324.04 265.8 324.66 266.4 324.64 267.0 324.32 267.6 323.78 268.2 323.04 268.8 322.17 269.4 321.19 270.0 320.16 270.6 319.22 271.2 318.51 271.8 317.84 272.4 317.24 273.0 316.75 273.6 316.40 274.2 316.20 274.8 316.24 275.4 316.69 276.0 317.50 276.6 318.57 277.2 319.94 277.8 321.81 278.4 323.66 279.0 325.33 279.6 326.70 280.2 327.62 280.8 327.96 281.4 327.31 282.0 325.57 282.6 323.05 283.2 320.05 283.8 317.67 284.4 315.54 285.0 313.72 285.6 312.40 286.2 311.81 286.8 312.19 287.4 313.58 288.0 315.72 288.6 318.37 289.2 322.07 289.8 326.29 290.4 330.19 291.0 333.41 291.6 335.60 292.2 336.41 292.8 334.82 293.4 330.69 294.0 324.97 294.6 318.88 295.2 314.68 295.8 311.36 296.4 309.59 297.0 309.86 297.6 311.65 298.2 314.31 298.8 317.18 299.4 319.67 300.0 321.63 300.6 321.20 301.2 319.08 301.8 317.21 302.4 316.13 303.0 316.73 303.6 318.80 304.2 322.62 304.8 326.98 305.4 330.65 306.0 332.68 306.6 332.57 307.2 331.27 307.8 329.09 308.4 326.23 309.0 322.91 309.6 319.39 310.2 316.88 310.8 314.50 311.4 312.38 312.0 310.69 312.6 309.56 313.2 309.16 313.8 310.17 314.4 312.83 315.0 316.59 315.6 321.51 316.2 327.69 316.8 333.09 317.4 336.91 318.0 338.36 318.6 337.55 319.2 335.33 319.8 332.06 320.4 328.10 321.0 323.78 321.6 319.48 322.2 316.71 322.8 314.44 323.4 312.90 324.0 312.33 324.6 312.58 325.2 313.26 325.8 314.28 326.4 315.54 327.0 316.94 327.6 318.38 328.2 319.87 328.8 321.63 329.4 323.02 330.0 323.91 330.6 324.15 331.2 323.77 331.8 322.90 332.4 321.66 333.0 320.17 333.6 318.84 334.2 317.71 334.8 316.65 335.4 315.75 336.0 315.10 336.6 314.77 337.2 314.93 337.8 315.82 338.4 317.21 339.0 318.87 339.6 321.00 340.2 323.08 340.8 324.50 341.4 324.90 342.0 324.21 342.6 322.69 343.2 320.61 343.8 318.62 344.4 316.95 345.0 315.46 345.6 314.32 346.2 313.73 346.8 313.85 347.4 314.65 348.0 315.98 348.6 317.67 349.2 319.62 349.8 322.45 350.4 325.16 351.0 327.52 351.6 329.31 352.2 330.31 352.8 330.25 353.4 328.79 354.0 326.21 354.6 322.89 355.2 319.27 355.8 316.66 356.4 314.27 357.0 312.38 357.6 311.21 358.2 311.00 358.8 311.43 359.4 312.29 360.0 313.50 360.6 314.98 361.2 316.63 361.8 318.37 362.4 320.37 363.0 322.74 363.6 324.86 364.2 326.60 364.8 327.84 365.4 328.45 366.0 328.42 366.6 328.03" stroke-width="1.9"/>
<path d="M211.0 357.06 211.5 356.96 212.0 356.71 212.5 356.46 213.0 356.40 213.5 356.59 214.0 357.00 214.5 357.22 215.0 357.04 215.5 356.93 216.0 357.08 216.5 357.13 217.0 356.94 217.5 356.78 218.0 356.82 218.5 356.76 219.0 356.40 219.5 355.98 220.0 355.66 220.5 355.56 221.0 355.73 221.5 356.06 222.0 356.40 222.5 356.72 223.0 356.74 223.5 356.32 224.0 355.98 224.5 356.17 225.0 356.51 225.5 356.45 226.0 356.13" stroke-width="2.6"/>
<path d="M225.0 357.00 225.6 357.00 226.2 357.00 226.8 357.04 227.4 357.11 228.0 357.20 228.6 357.32 229.2 357.43 229.8 357.54 230.4 357.64 231.0 357.72 231.6 357.76 232.2 357.74 232.8 357.55 233.4 357.26 234.0 356.97 234.6 356.81 235.2 356.64 235.8 356.46 236.4 356.28 237.0 356.12 237.6 355.97 238.2 355.86 238.8 355.79 239.4 355.79 240.0 356.00 240.6 356.39 241.2 356.87 241.8 357.58 242.4 358.26 243.0 358.72 243.6 358.86 244.2 358.72 244.8 358.39 245.4 357.92 246.0 357.34 246.6 356.80 247.2 356.35 247.8 355.91 248.4 355.49 249.0 355.13 249.6 354.85 250.2 354.67 250.8 354.63 251.4 355.07 252.0 355.98 252.6 357.24 253.2 359.08 253.8 360.64 254.4 361.58 255.0 361.65 255.6 361.17 256.2 360.31 256.8 359.17 257.4 357.86 258.0 356.66 258.6 355.78 259.2 354.99 259.8 354.35 260.4 353.95 261.0 353.84 261.6 354.17 262.2 354.90 262.8 355.91 263.4 357.07 264.0 358.83 264.6 360.40 265.2 361.59 265.8 362.22 266.4 362.20 267.0 361.87 267.6 361.32 268.2 360.58 268.8 359.70 269.4 358.71 270.0 357.66 270.6 356.74 271.2 356.05 271.8 355.41 272.4 354.85 273.0 354.38 273.6 354.04 274.2 353.86 274.8 353.89 275.4 354.32 276.0 355.09 276.6 356.11 277.2 357.44 277.8 359.34 278.4 361.21 279.0 362.90 279.6 364.28 280.2 365.21 280.8 365.55 281.4 364.90 282.0 363.14 282.6 360.59 283.2 357.56 283.8 355.25 284.4 353.23 285.0 351.49 285.6 350.23 286.2 349.67 286.8 350.03 287.4 351.35 288.0 353.39 288.6 355.92 289.2 359.60 289.8 363.87 290.4 367.81 291.0 371.06 291.6 373.28 292.2 374.10 292.8 372.49 293.4 368.31 294.0 362.53 294.6 356.41 295.2 352.40 295.8 349.24 296.4 347.55 297.0 347.80 297.6 349.52 298.2 352.05 298.8 354.79 299.4 357.17 300.0 359.15 300.6 358.72 301.2 356.60 301.8 354.81 302.4 353.79 303.0 354.36 303.6 356.33 304.2 360.16 304.8 364.57 305.4 368.27 306.0 370.33 306.6 370.21 307.2 368.90 307.8 366.70 308.4 363.81 309.0 360.45 309.6 356.90 310.2 354.50 310.8 352.23 311.4 350.21 312.0 348.60 312.6 347.53 313.2 347.14 313.8 348.10 314.4 350.63 315.0 354.22 315.6 359.03 316.2 365.29 316.8 370.74 317.4 374.61 318.0 376.07 318.6 375.24 319.2 373.00 319.8 369.70 320.4 365.69 321.0 361.33 321.6 356.98 322.2 354.34 322.8 352.17 323.4 350.70 324.0 350.16 324.6 350.40 325.2 351.05 325.8 352.02 326.4 353.22 327.0 354.56 327.6 355.93 328.2 357.37 328.8 359.15 329.4 360.56 330.0 361.46 330.6 361.70 331.2 361.31 331.8 360.43 332.4 359.18 333.0 357.68 333.6 356.37 334.2 355.29 334.8 354.28 335.4 353.43 336.0 352.80 336.6 352.49 337.2 352.65 337.8 353.49 338.4 354.82 339.0 356.40 339.6 358.51 340.2 360.62 340.8 362.06 341.4 362.46 342.0 361.77 342.6 360.23 343.2 358.12 343.8 356.16 344.4 354.57 345.0 353.14 345.6 352.06 346.2 351.50 346.8 351.61 347.4 352.38 348.0 353.64 348.6 355.25 349.2 357.12 349.8 359.99 350.4 362.73 351.0 365.11 351.6 366.92 352.2 367.93 352.8 367.87 353.4 366.39 354.0 363.79 354.6 360.42 355.2 356.78 355.8 354.29 356.4 352.02 357.0 350.21 357.6 349.10 358.2 348.89 358.8 349.30 359.4 350.12 360.0 351.28 360.6 352.69 361.2 354.26 361.8 355.92 362.4 357.88 363.0 360.27 363.6 362.42 364.2 364.18 364.8 365.43 365.4 366.05 366.0 366.02 366.6 365.63" stroke-width="1.9"/>
<path d="M211.0 397.70L225.5 397.70" stroke-width="1.5"/>
<path d="M225.0 397.70 225.6 397.70 226.2 397.70 226.8 397.74 227.4 397.81 228.0 397.91 228.6 398.02 229.2 398.14 229.8 398.25 230.4 398.35 231.0 398.43 231.6 398.47 232.2 398.45 232.8 398.26 233.4 397.96 234.0 397.67 234.6 397.52 235.2 397.36 235.8 397.19 236.4 397.02 237.0 396.86 237.6 396.72 238.2 396.61 238.8 396.55 239.4 396.55 240.0 396.75 240.6 397.12 241.2 397.58 241.8 398.28 242.4 398.97 243.0 399.44 243.6 399.58 244.2 399.44 244.8 399.11 245.4 398.63 246.0 398.04 246.6 397.51 247.2 397.08 247.8 396.66 248.4 396.26 249.0 395.92 249.6 395.65 250.2 395.49 250.8 395.45 251.4 395.86 252.0 396.73 252.6 397.94 253.2 399.80 253.8 401.38 254.4 402.33 255.0 402.40 255.6 401.91 256.2 401.04 256.8 399.90 257.4 398.57 258.0 397.38 258.6 396.54 259.2 395.78 259.8 395.18 260.4 394.80 261.0 394.69 261.6 395.01 262.2 395.71 262.8 396.66 263.4 397.77 264.0 399.54 264.6 401.14 265.2 402.34 265.8 402.97 266.4 402.95 267.0 402.63 267.6 402.07 268.2 401.32 268.8 400.43 269.4 399.43 270.0 398.37 270.6 397.45 271.2 396.80 271.8 396.19 272.4 395.65 273.0 395.21 273.6 394.88 274.2 394.71 274.8 394.74 275.4 395.15 276.0 395.88 276.6 396.85 277.2 398.15 277.8 400.07 278.4 401.95 279.0 403.66 279.6 405.06 280.2 406.00 280.8 406.34 281.4 405.68 282.0 403.91 282.6 401.33 283.2 398.26 283.8 396.04 284.4 394.11 285.0 392.45 285.6 391.26 286.2 390.73 286.8 391.07 287.4 392.33 288.0 394.27 288.6 396.68 289.2 400.33 289.8 404.64 290.4 408.63 291.0 411.92 291.6 414.16 292.2 414.98 292.8 413.36 293.4 409.14 294.0 403.29 294.6 397.14 295.2 393.33 295.8 390.31 296.4 388.71 297.0 388.95 297.6 390.58 298.2 392.99 298.8 395.59 299.4 397.87 300.0 399.87 300.6 399.44 301.2 397.32 301.8 395.62 302.4 394.64 303.0 395.19 303.6 397.06 304.2 400.89 304.8 405.35 305.4 409.09 306.0 411.17 306.6 411.06 307.2 409.73 307.8 407.50 308.4 404.58 309.0 401.19 309.6 397.60 310.2 395.33 310.8 393.16 311.4 391.24 312.0 389.71 312.6 388.69 313.2 388.32 313.8 389.23 314.4 391.64 315.0 395.06 315.6 399.75 316.2 406.08 316.8 411.60 317.4 415.50 318.0 416.98 318.6 416.14 319.2 413.88 319.8 410.54 320.4 406.49 321.0 402.08 321.6 397.68 322.2 395.17 322.8 393.11 323.4 391.71 324.0 391.19 324.6 391.42 325.2 392.04 325.8 392.97 326.4 394.11 327.0 395.37 327.6 396.68 328.2 398.08 328.8 399.87 329.4 401.30 330.0 402.21 330.6 402.46 331.2 402.06 331.8 401.17 332.4 399.90 333.0 398.38 333.6 397.10 334.2 396.07 334.8 395.12 335.4 394.30 336.0 393.71 336.6 393.41 337.2 393.56 337.8 394.36 338.4 395.62 339.0 397.13 339.6 399.23 340.2 401.36 340.8 402.81 341.4 403.22 342.0 402.52 342.6 400.96 343.2 398.84 343.8 396.90 344.4 395.39 345.0 394.03 345.6 393.00 346.2 392.46 346.8 392.58 347.4 393.30 348.0 394.50 348.6 396.04 349.2 397.82 349.8 400.72 350.4 403.49 351.0 405.90 351.6 407.73 352.2 408.75 352.8 408.69 353.4 407.19 354.0 404.56 354.6 401.16 355.2 397.49 355.8 395.12 356.4 392.96 357.0 391.24 357.6 390.18 358.2 389.99 358.8 390.37 359.4 391.16 360.0 392.26 360.6 393.60 361.2 395.10 361.8 396.67 362.4 398.59 363.0 401.01 363.6 403.18 364.2 404.96 364.8 406.23 365.4 406.85 366.0 406.81 366.6 406.42" stroke-width="1.9"/>
</g>
<g stroke="#e82626">
<path d="M211.0 434.80L225.5 434.80" stroke-width="1.4"/>
<path d="M225.0 434.80 225.6 434.80 226.2 434.80 226.8 434.84 227.4 434.92 228.0 435.03 228.6 435.15 229.2 435.28 229.8 435.41 230.4 435.52 231.0 435.60 231.6 435.65 232.2 435.62 232.8 435.41 233.4 435.09 234.0 434.75 234.6 434.51 235.2 434.26 235.8 434.00 236.4 433.73 237.0 433.47 237.6 433.25 238.2 433.09 238.8 432.98 239.4 432.99 240.0 433.30 240.6 433.88 241.2 434.61 241.8 435.44 242.4 436.20 243.0 436.72 243.6 436.87 244.2 436.71 244.8 436.35 245.4 435.82 246.0 435.18 246.6 434.49 247.2 433.82 247.8 433.16 248.4 432.54 249.0 432.00 249.6 431.58 250.2 431.31 250.8 431.25 251.4 431.90 252.0 433.27 252.6 435.06 253.2 437.11 253.8 438.85 254.4 439.90 255.0 439.97 255.6 439.44 256.2 438.48 256.8 437.22 257.4 435.76 258.0 434.29 258.6 432.97 259.2 431.78 259.8 430.83 260.4 430.22 261.0 430.06 261.6 430.56 262.2 431.66 262.8 433.16 263.4 434.88 264.0 436.83 264.6 438.58 265.2 439.91 265.8 440.61 266.4 440.58 267.0 440.23 267.6 439.61 268.2 438.79 268.8 437.80 269.4 436.71 270.0 435.54 270.6 434.40 271.2 433.38 271.8 432.42 272.4 431.57 273.0 430.87 273.6 430.36 274.2 430.08 274.8 430.13 275.4 430.78 276.0 431.93 276.6 433.46 277.2 435.29 277.8 437.41 278.4 439.48 279.0 441.37 279.6 442.90 280.2 443.94 280.8 444.32 281.4 443.59 282.0 441.64 282.6 438.80 283.2 435.42 283.8 432.18 284.4 429.14 285.0 426.53 285.6 424.65 286.2 423.80 286.8 424.35 287.4 426.33 288.0 429.39 288.6 433.19 289.2 437.69 289.8 442.44 290.4 446.83 291.0 450.46 291.6 452.92 292.2 453.83 292.8 452.04 293.4 447.39 294.0 440.96 294.6 433.92 295.2 427.90 295.8 423.16 296.4 420.62 297.0 421.01 297.6 423.57 298.2 427.37 298.8 431.48 299.4 434.99 300.0 437.19 300.6 436.72 301.2 434.20 301.8 431.52 302.4 429.98 303.0 430.84 303.6 433.80 304.2 438.31 304.8 443.22 305.4 447.35 306.0 449.63 306.6 449.51 307.2 448.05 307.8 445.59 308.4 442.38 309.0 438.64 309.6 434.65 310.2 431.06 310.8 427.64 311.4 424.62 312.0 422.20 312.6 420.59 313.2 420.00 313.8 421.45 314.4 425.25 315.0 430.63 315.6 437.06 316.2 444.02 316.8 450.10 317.4 454.40 318.0 456.03 318.6 455.11 319.2 452.61 319.8 448.94 320.4 444.48 321.0 439.62 321.6 434.77 322.2 430.82 322.8 427.56 323.4 425.35 324.0 424.54 324.6 424.90 325.2 425.88 325.8 427.34 326.4 429.14 327.0 431.13 327.6 433.19 328.2 435.21 328.8 437.19 329.4 438.76 330.0 439.76 330.6 440.04 331.2 439.60 331.8 438.62 332.4 437.23 333.0 435.55 333.6 433.86 334.2 432.24 334.8 430.72 335.4 429.44 336.0 428.50 336.6 428.03 337.2 428.27 337.8 429.54 338.4 431.53 339.0 433.89 339.6 436.48 340.2 438.83 340.8 440.43 341.4 440.88 342.0 440.10 342.6 438.39 343.2 436.05 343.8 433.54 344.4 431.16 345.0 429.02 345.6 427.39 346.2 426.55 346.8 426.72 347.4 427.86 348.0 429.76 348.6 432.18 349.2 434.93 349.8 438.12 350.4 441.17 351.0 443.83 351.6 445.84 352.2 446.97 352.8 446.90 353.4 445.25 354.0 442.36 354.6 438.61 355.2 434.47 355.8 430.73 356.4 427.33 357.0 424.61 357.6 422.94 358.2 422.64 358.8 423.25 359.4 424.49 360.0 426.22 360.6 428.33 361.2 430.69 361.8 433.18 362.4 435.78 363.0 438.45 363.6 440.83 364.2 442.79 364.8 444.19 365.4 444.88 366.0 444.84 366.6 444.40" stroke-width="1.7"/>
</g>
</g>
<rect x="211.0" y="14.5" width="155.6" height="478.4" fill="none" stroke="#555" stroke-width="1.4" rx="1"/>
<line x1="262.9" y1="14.5" x2="262.9" y2="18.5" stroke="#555" stroke-width="1"/>
<line x1="262.9" y1="492.9" x2="262.9" y2="488.9" stroke="#555" stroke-width="1"/>
<line x1="314.7" y1="14.5" x2="314.7" y2="18.5" stroke="#555" stroke-width="1"/>
<line x1="314.7" y1="492.9" x2="314.7" y2="488.9" stroke="#555" stroke-width="1"/>
<g clip-path="url(#cc)" fill="none" stroke-linejoin="round" stroke-linecap="round">
<g stroke="#2626c2">
<path d="M378.8 52.80L403.2 52.40" stroke-width="1.5"/>
<path d="M402.7 52.40 403.3 52.40 403.9 52.42 404.5 52.69 405.1 53.12 405.7 53.52 406.3 53.70 406.9 53.43 407.5 52.75 408.1 51.83 408.7 50.85 409.3 49.99 409.9 49.42 410.5 49.33 411.1 49.80 411.7 50.67 412.3 51.76 412.9 52.90 413.5 53.90 414.1 54.59 414.7 54.79 415.3 54.51 415.9 53.87 416.5 52.98 417.1 51.95 417.7 50.87 418.3 49.86 418.9 49.01 419.5 48.42 420.1 48.20 420.7 48.60 421.3 49.63 421.9 51.01 422.5 52.48 423.1 53.77 423.7 54.62 424.3 54.77 424.9 54.38 425.5 53.69 426.1 52.89 426.7 52.17 427.3 51.67 427.9 51.18 428.5 50.71 429.1 50.28 429.7 49.95 430.3 49.74 430.9 49.73 431.5 50.14 432.1 50.92 432.7 51.90 433.3 52.94 433.9 53.87 434.5 54.54 435.1 54.80 435.7 54.64 436.3 54.19 436.9 53.54 437.5 52.75 438.1 51.91 438.7 51.07 439.3 50.32 439.9 49.73 440.5 49.37 441.1 49.33 441.7 49.72 442.3 50.43 442.9 51.30 443.5 52.17 444.1 52.88 444.7 53.27 445.3 53.28 445.9 53.20 446.5 53.04 447.1 52.82 447.7 52.54 448.3 52.19 448.9 51.79 449.5 51.25 450.1 49.55 450.7 47.22 451.3 45.26 451.9 44.64 452.5 46.34 453.1 49.85 453.7 54.22 454.3 58.52 454.9 61.80 455.5 63.10 456.1 62.21 456.7 59.88 457.3 56.68 457.9 53.12 458.5 49.75 459.1 47.12 459.7 45.76 460.3 45.52 460.9 45.33 461.5 45.18 462.1 45.07 462.7 45.01 463.3 45.08 463.9 46.12 464.5 48.16 465.1 50.89 465.7 54.00 466.3 57.18 466.9 60.14 467.5 62.56 468.1 64.14 468.7 64.56 469.3 63.01 469.9 59.60 470.5 54.96 471.1 49.70 471.7 44.44 472.3 39.80 472.9 36.39 473.5 34.84 474.1 35.64 474.7 38.52 475.3 42.90 475.9 48.17 476.5 53.73 477.1 59.00 477.7 63.38 478.3 66.26 478.9 67.07 479.5 65.90 480.1 63.31 480.7 59.74 481.3 55.61 481.9 51.38 482.5 47.48 483.1 44.34 483.7 42.41 484.3 42.03 484.9 42.48 485.5 43.40 486.1 44.68 486.7 46.25 487.3 48.02 487.9 49.88 488.5 51.77 489.1 53.58 489.7 55.22 490.3 56.61 490.9 57.66 491.5 58.28 492.1 58.36 492.7 57.87 493.3 56.89 493.9 55.53 494.5 53.91 495.1 52.15 495.7 50.36 496.3 48.65 496.9 47.15 497.5 45.96 498.1 45.21 498.7 45.01 499.3 45.46 499.9 46.47 500.5 47.88 501.1 49.56 501.7 51.35 502.3 53.10 502.9 54.67 503.5 55.90 504.1 56.64 504.7 56.77 505.3 56.38 505.9 55.62 506.5 54.59 507.1 53.41 507.7 52.19 508.3 51.02 508.9 50.03 509.5 49.32 510.1 49.01 510.7 49.13 511.3 49.59 511.9 50.24 512.5 50.99 513.1 51.70 513.7 52.27 514.3 52.58 514.9 52.51 515.5 52.13 516.1 51.61 516.7 51.12 517.3 50.82 517.9 50.91 518.5 51.38 519.1 52.05 519.7 52.72 520.3 53.19 520.9 53.29 521.5 53.20 522.1 53.02 522.7 52.77 523.3 52.46 523.9 52.13 524.5 51.78 525.1 51.44 525.7 50.99 526.3 50.41 526.9 49.77 527.5 49.13 528.1 48.56 528.7 48.14 529.3 47.92 529.9 48.24 530.5 49.76 531.1 51.90 531.7 54.04 532.3 55.56 532.9 55.83 533.5 54.90 534.1 53.08" stroke-width="1.9"/>
<path d="M378.8 91.80L403.2 91.40" stroke-width="1.5"/>
<path d="M402.7 91.40 403.3 91.40 403.9 91.42 404.5 91.69 405.1 92.13 405.7 92.53 406.3 92.71 406.9 92.44 407.5 91.75 408.1 90.83 408.7 89.85 409.3 88.99 409.9 88.42 410.5 88.33 411.1 88.80 411.7 89.67 412.3 90.76 412.9 91.90 413.5 92.92 414.1 93.61 414.7 93.81 415.3 93.52 415.9 92.88 416.5 91.98 417.1 90.95 417.7 89.87 418.3 88.86 418.9 88.01 419.5 87.42 420.1 87.20 420.7 87.60 421.3 88.63 421.9 90.01 422.5 91.48 423.1 92.78 423.7 93.63 424.3 93.79 424.9 93.40 425.5 92.70 426.1 91.89 426.7 91.17 427.3 90.67 427.9 90.18 428.5 89.71 429.1 89.28 429.7 88.95 430.3 88.74 430.9 88.73 431.5 89.14 432.1 89.92 432.7 90.90 433.3 91.94 433.9 92.88 434.5 93.56 435.1 93.82 435.7 93.65 436.3 93.21 436.9 92.55 437.5 91.75 438.1 90.91 438.7 90.07 439.3 89.32 439.9 88.73 440.5 88.37 441.1 88.33 441.7 88.72 442.3 89.43 442.9 90.30 443.5 91.17 444.1 91.89 444.7 92.28 445.3 92.29 445.9 92.20 446.5 92.05 447.1 91.82 447.7 91.54 448.3 91.19 448.9 90.79 449.5 90.25 450.1 88.55 450.7 86.22 451.3 84.26 451.9 83.64 452.5 85.34 453.1 88.85 453.7 93.24 454.3 97.58 454.9 100.89 455.5 102.20 456.1 101.30 456.7 98.96 457.3 95.72 457.9 92.12 458.5 88.75 459.1 86.12 459.7 84.76 460.3 84.52 460.9 84.33 461.5 84.18 462.1 84.07 462.7 84.01 463.3 84.08 463.9 85.12 464.5 87.16 465.1 89.89 465.7 93.01 466.3 96.23 466.9 99.21 467.5 101.66 468.1 103.26 468.7 103.68 469.3 102.11 469.9 98.67 470.5 93.98 471.1 88.70 471.7 83.44 472.3 78.80 472.9 75.39 473.5 73.84 474.1 74.64 474.7 77.52 475.3 81.90 475.9 87.17 476.5 92.74 477.1 98.06 477.7 102.48 478.3 105.40 478.9 106.22 479.5 105.03 480.1 102.42 480.7 98.81 481.3 94.64 481.9 90.38 482.5 86.48 483.1 83.34 483.7 81.41 484.3 81.03 484.9 81.48 485.5 82.40 486.1 83.68 486.7 85.25 487.3 87.02 487.9 88.88 488.5 90.77 489.1 92.59 489.7 94.25 490.3 95.65 490.9 96.71 491.5 97.33 492.1 97.42 492.7 96.92 493.3 95.93 493.9 94.56 494.5 92.92 495.1 91.15 495.7 89.36 496.3 87.65 496.9 86.15 497.5 84.96 498.1 84.21 498.7 84.01 499.3 84.46 499.9 85.47 500.5 86.88 501.1 88.56 501.7 90.35 502.3 92.11 502.9 93.69 503.5 94.93 504.1 95.68 504.7 95.81 505.3 95.42 505.9 94.65 506.5 93.61 507.1 92.42 507.7 91.19 508.3 90.02 508.9 89.03 509.5 88.32 510.1 88.01 510.7 88.13 511.3 88.59 511.9 89.24 512.5 89.99 513.1 90.70 513.7 91.27 514.3 91.58 514.9 91.51 515.5 91.13 516.1 90.61 516.7 90.12 517.3 89.82 517.9 89.91 518.5 90.38 519.1 91.05 519.7 91.72 520.3 92.20 520.9 92.30 521.5 92.21 522.1 92.02 522.7 91.77 523.3 91.46 523.9 91.13 524.5 90.78 525.1 90.44 525.7 89.99 526.3 89.41 526.9 88.77 527.5 88.13 528.1 87.56 528.7 87.14 529.3 86.92 529.9 87.24 530.5 88.76 531.1 90.90 531.7 93.06 532.3 94.58 532.9 94.86 533.5 93.92 534.1 92.08" stroke-width="1.9"/>
<path d="M378.8 129.10L403.2 128.70" stroke-width="1.5"/>
<path d="M402.7 128.70 403.3 128.70 403.9 128.72 404.5 128.99 405.1 129.43 405.7 129.84 406.3 130.02 406.9 129.75 407.5 129.05 408.1 128.13 408.7 127.15 409.3 126.29 409.9 125.72 410.5 125.63 411.1 126.10 411.7 126.97 412.3 128.06 412.9 129.20 413.5 130.23 414.1 130.93 414.7 131.14 415.3 130.84 415.9 130.19 416.5 129.29 417.1 128.25 417.7 127.17 418.3 126.16 418.9 125.31 419.5 124.72 420.1 124.50 420.7 124.90 421.3 125.93 421.9 127.31 422.5 128.78 423.1 130.09 423.7 130.95 424.3 131.11 424.9 130.71 425.5 130.01 426.1 129.19 426.7 128.47 427.3 127.97 427.9 127.48 428.5 127.01 429.1 126.58 429.7 126.25 430.3 126.04 430.9 126.03 431.5 126.44 432.1 127.22 432.7 128.20 433.3 129.24 433.9 130.19 434.5 130.88 435.1 131.14 435.7 130.97 436.3 130.52 436.9 129.86 437.5 129.06 438.1 128.21 438.7 127.37 439.3 126.62 439.9 126.03 440.5 125.67 441.1 125.63 441.7 126.02 442.3 126.73 442.9 127.60 443.5 128.47 444.1 129.19 444.7 129.58 445.3 129.60 445.9 129.51 446.5 129.35 447.1 129.12 447.7 128.84 448.3 128.49 448.9 128.09 449.5 127.55 450.1 125.85 450.7 123.52 451.3 121.56 451.9 120.94 452.5 122.64 453.1 126.15 453.7 130.56 454.3 134.94 454.9 138.28 455.5 139.61 456.1 138.70 456.7 136.33 457.3 133.06 457.9 129.43 458.5 126.05 459.1 123.42 459.7 122.06 460.3 121.82 460.9 121.63 461.5 121.48 462.1 121.37 462.7 121.31 463.3 121.38 463.9 122.42 464.5 124.46 465.1 127.19 465.7 130.32 466.3 133.57 466.9 136.59 467.5 139.06 468.1 140.67 468.7 141.10 469.3 139.52 469.9 136.04 470.5 131.31 471.1 126.00 471.7 120.74 472.3 116.10 472.9 112.69 473.5 111.14 474.1 111.94 474.7 114.82 475.3 119.20 475.9 124.47 476.5 130.05 477.1 135.43 477.7 139.89 478.3 142.83 478.9 143.66 479.5 142.47 480.1 139.82 480.7 136.18 481.3 131.97 481.9 127.68 482.5 123.78 483.1 120.64 483.7 118.71 484.3 118.33 484.9 118.78 485.5 119.70 486.1 120.98 486.7 122.55 487.3 124.32 487.9 126.18 488.5 128.07 489.1 129.89 489.7 131.57 490.3 132.99 490.9 134.06 491.5 134.69 492.1 134.78 492.7 134.28 493.3 133.27 493.9 131.89 494.5 130.24 495.1 128.45 495.7 126.66 496.3 124.95 496.9 123.45 497.5 122.26 498.1 121.51 498.7 121.31 499.3 121.76 499.9 122.77 500.5 124.18 501.1 125.86 501.7 127.65 502.3 129.41 502.9 131.01 503.5 132.26 504.1 133.02 504.7 133.15 505.3 132.76 505.9 131.98 506.5 130.93 507.1 129.73 507.7 128.49 508.3 127.32 508.9 126.33 509.5 125.62 510.1 125.31 510.7 125.43 511.3 125.89 511.9 126.54 512.5 127.29 513.1 128.00 513.7 128.57 514.3 128.88 514.9 128.81 515.5 128.43 516.1 127.91 516.7 127.42 517.3 127.12 517.9 127.21 518.5 127.68 519.1 128.35 519.7 129.02 520.3 129.50 520.9 129.61 521.5 129.51 522.1 129.33 522.7 129.07 523.3 128.76 523.9 128.43 524.5 128.08 525.1 127.74 525.7 127.29 526.3 126.71 526.9 126.07 527.5 125.43 528.1 124.86 528.7 124.44 529.3 124.22 529.9 124.54 530.5 126.06 531.1 128.20 531.7 130.37 532.3 131.91 532.9 132.20 533.5 131.24 534.1 129.39" stroke-width="1.9"/>
<path d="M378.8 167.40L403.2 167.00" stroke-width="1.5"/>
<path d="M402.7 167.00 403.3 167.00 403.9 167.02 404.5 167.29 405.1 167.74 405.7 168.15 406.3 168.33 406.9 168.05 407.5 167.35 408.1 166.43 408.7 165.45 409.3 164.59 409.9 164.02 410.5 163.93 411.1 164.40 411.7 165.27 412.3 166.36 412.9 167.51 413.5 168.54 414.1 169.25 414.7 169.46 415.3 169.16 415.9 168.50 416.5 167.59 417.1 166.55 417.7 165.47 418.3 164.46 418.9 163.61 419.5 163.02 420.1 162.80 420.7 163.20 421.3 164.23 421.9 165.61 422.5 167.08 423.1 168.40 423.7 169.27 424.3 169.43 424.9 169.03 425.5 168.32 426.1 167.49 426.7 166.77 427.3 166.27 427.9 165.78 428.5 165.31 429.1 164.88 429.7 164.55 430.3 164.34 430.9 164.33 431.5 164.74 432.1 165.52 432.7 166.50 433.3 167.54 433.9 168.50 434.5 169.20 435.1 169.46 435.7 169.29 436.3 168.84 436.9 168.16 437.5 167.36 438.1 166.51 438.7 165.67 439.3 164.92 439.9 164.33 440.5 163.97 441.1 163.93 441.7 164.32 442.3 165.03 442.9 165.90 443.5 166.77 444.1 167.49 444.7 167.89 445.3 167.90 445.9 167.81 446.5 167.65 447.1 167.42 447.7 167.14 448.3 166.79 448.9 166.39 449.5 165.85 450.1 164.15 450.7 161.82 451.3 159.86 451.9 159.24 452.5 160.94 453.1 164.45 453.7 168.87 454.3 173.30 454.9 176.67 455.5 178.01 456.1 177.09 456.7 174.70 457.3 171.39 457.9 167.73 458.5 164.35 459.1 161.72 459.7 160.36 460.3 160.12 460.9 159.93 461.5 159.78 462.1 159.67 462.7 159.61 463.3 159.68 463.9 160.72 464.5 162.76 465.1 165.49 465.7 168.64 466.3 171.92 466.9 174.96 467.5 177.46 468.1 179.09 468.7 179.52 469.3 177.92 469.9 174.41 470.5 169.63 471.1 164.30 471.7 159.04 472.3 154.40 472.9 150.99 473.5 149.44 474.1 150.24 474.7 153.12 475.3 157.50 475.9 162.77 476.5 168.36 477.1 173.79 477.7 178.30 478.3 181.27 478.9 182.10 479.5 180.90 480.1 178.23 480.7 174.55 481.3 170.30 481.9 165.98 482.5 162.08 483.1 158.94 483.7 157.01 484.3 156.63 484.9 157.08 485.5 158.00 486.1 159.28 486.7 160.85 487.3 162.62 487.9 164.48 488.5 166.37 489.1 168.20 489.7 169.90 490.3 171.33 490.9 172.41 491.5 173.04 492.1 173.13 492.7 172.63 493.3 171.61 493.9 170.22 494.5 168.55 495.1 166.75 495.7 164.96 496.3 163.25 496.9 161.75 497.5 160.56 498.1 159.81 498.7 159.61 499.3 160.06 499.9 161.07 500.5 162.48 501.1 164.16 501.7 165.95 502.3 167.71 502.9 169.33 503.5 170.59 504.1 171.36 504.7 171.49 505.3 171.09 505.9 170.31 506.5 169.25 507.1 168.03 507.7 166.79 508.3 165.62 508.9 164.63 509.5 163.92 510.1 163.61 510.7 163.73 511.3 164.19 511.9 164.84 512.5 165.59 513.1 166.30 513.7 166.87 514.3 167.18 514.9 167.11 515.5 166.73 516.1 166.21 516.7 165.72 517.3 165.42 517.9 165.51 518.5 165.98 519.1 166.65 519.7 167.32 520.3 167.81 520.9 167.91 521.5 167.82 522.1 167.63 522.7 167.37 523.3 167.06 523.9 166.73 524.5 166.38 525.1 166.04 525.7 165.59 526.3 165.01 526.9 164.37 527.5 163.73 528.1 163.16 528.7 162.74 529.3 162.52 529.9 162.84 530.5 164.36 531.1 166.50 531.7 168.68 532.3 170.24 532.9 170.53 533.5 169.57 534.1 167.69" stroke-width="1.9"/>
<path d="M378.8 203.10L403.2 202.70" stroke-width="1.5"/>
<path d="M402.7 202.70 403.3 202.70 403.9 202.72 404.5 202.99 405.1 203.44 405.7 203.86 406.3 204.04 406.9 203.76 407.5 203.05 408.1 202.13 408.7 201.15 409.3 200.29 409.9 199.72 410.5 199.63 411.1 200.10 411.7 200.97 412.3 202.06 412.9 203.21 413.5 204.25 414.1 204.97 414.7 205.18 415.3 204.88 415.9 204.21 416.5 203.29 417.1 202.25 417.7 201.17 418.3 200.16 418.9 199.31 419.5 198.72 420.1 198.50 420.7 198.90 421.3 199.93 421.9 201.31 422.5 202.78 423.1 204.11 423.7 204.99 424.3 205.15 424.9 204.75 425.5 204.03 426.1 203.19 426.7 202.47 427.3 201.97 427.9 201.48 428.5 201.01 429.1 200.58 429.7 200.25 430.3 200.04 430.9 200.03 431.5 200.44 432.1 201.22 432.7 202.20 433.3 203.25 433.9 204.22 434.5 204.92 435.1 205.18 435.7 205.01 436.3 204.55 436.9 203.87 437.5 203.06 438.1 202.21 438.7 201.37 439.3 200.62 439.9 200.03 440.5 199.67 441.1 199.63 441.7 200.02 442.3 200.73 442.9 201.60 443.5 202.47 444.1 203.19 444.7 203.59 445.3 203.61 445.9 203.52 446.5 203.36 447.1 203.13 447.7 202.84 448.3 202.49 448.9 202.09 449.5 201.55 450.1 199.85 450.7 197.52 451.3 195.56 451.9 194.94 452.5 196.64 453.1 200.15 453.7 204.59 454.3 209.06 454.9 212.46 455.5 213.82 456.1 212.89 456.7 210.47 457.3 207.13 457.9 203.44 458.5 200.05 459.1 197.42 459.7 196.06 460.3 195.82 460.9 195.63 461.5 195.48 462.1 195.37 462.7 195.31 463.3 195.38 463.9 196.42 464.5 198.46 465.1 201.19 465.7 204.35 466.3 207.66 466.9 210.74 467.5 213.26 468.1 214.90 468.7 215.34 469.3 213.72 469.9 210.18 470.5 205.35 471.1 200.00 471.7 194.74 472.3 190.10 472.9 186.69 473.5 185.14 474.1 185.94 474.7 188.82 475.3 193.20 475.9 198.47 476.5 204.07 477.1 209.55 477.7 214.10 478.3 217.10 478.9 217.95 479.5 216.73 480.1 214.03 480.7 210.32 481.3 206.03 481.9 201.68 482.5 197.78 483.1 194.64 483.7 192.71 484.3 192.33 484.9 192.78 485.5 193.70 486.1 194.98 486.7 196.55 487.3 198.32 487.9 200.18 488.5 202.07 489.1 203.91 489.7 205.62 490.3 207.07 490.9 208.16 491.5 208.80 492.1 208.89 492.7 208.38 493.3 207.36 493.9 205.94 494.5 204.26 495.1 202.45 495.7 200.66 496.3 198.95 496.9 197.45 497.5 196.26 498.1 195.51 498.7 195.31 499.3 195.76 499.9 196.77 500.5 198.18 501.1 199.86 501.7 201.65 502.3 203.42 502.9 205.05 503.5 206.33 504.1 207.10 504.7 207.23 505.3 206.83 505.9 206.04 506.5 204.97 507.1 203.74 507.7 202.49 508.3 201.32 508.9 200.33 509.5 199.62 510.1 199.31 510.7 199.43 511.3 199.89 511.9 200.54 512.5 201.29 513.1 202.00 513.7 202.57 514.3 202.88 514.9 202.81 515.5 202.43 516.1 201.91 516.7 201.42 517.3 201.12 517.9 201.21 518.5 201.68 519.1 202.35 519.7 203.02 520.3 203.51 520.9 203.62 521.5 203.52 522.1 203.33 522.7 203.07 523.3 202.76 523.9 202.43 524.5 202.08 525.1 201.74 525.7 201.29 526.3 200.71 526.9 200.07 527.5 199.43 528.1 198.86 528.7 198.44 529.3 198.22 529.9 198.54 530.5 200.06 531.1 202.20 531.7 204.40 532.3 205.97 532.9 206.26 533.5 205.29 534.1 203.39" stroke-width="1.9"/>
<path d="M378.8 243.30L403.2 242.90" stroke-width="1.5"/>
<path d="M402.7 242.90 403.3 242.90 403.9 242.92 404.5 243.19 405.1 243.65 405.7 244.07 406.3 244.25 406.9 243.97 407.5 243.25 408.1 242.33 408.7 241.35 409.3 240.49 409.9 239.92 410.5 239.83 411.1 240.30 411.7 241.17 412.3 242.26 412.9 243.41 413.5 244.46 414.1 245.19 414.7 245.40 415.3 245.10 415.9 244.43 416.5 243.50 417.1 242.45 417.7 241.37 418.3 240.36 418.9 239.51 419.5 238.92 420.1 238.70 420.7 239.10 421.3 240.13 421.9 241.51 422.5 242.98 423.1 244.32 423.7 245.21 424.3 245.37 424.9 244.96 425.5 244.24 426.1 243.40 426.7 242.67 427.3 242.17 427.9 241.68 428.5 241.21 429.1 240.78 429.7 240.45 430.3 240.24 430.9 240.23 431.5 240.64 432.1 241.42 432.7 242.40 433.3 243.45 433.9 244.43 434.5 245.13 435.1 245.40 435.7 245.23 436.3 244.77 436.9 244.08 437.5 243.26 438.1 242.41 438.7 241.57 439.3 240.82 439.9 240.23 440.5 239.87 441.1 239.83 441.7 240.22 442.3 240.93 442.9 241.80 443.5 242.67 444.1 243.39 444.7 243.80 445.3 243.81 445.9 243.72 446.5 243.56 447.1 243.33 447.7 243.04 448.3 242.69 448.9 242.29 449.5 241.75 450.1 240.05 450.7 237.72 451.3 235.76 451.9 235.14 452.5 236.84 453.1 240.35 453.7 244.80 454.3 249.32 454.9 252.75 455.5 254.12 456.1 253.18 456.7 250.74 457.3 247.37 457.9 243.64 458.5 240.25 459.1 237.62 459.7 236.26 460.3 236.02 460.9 235.83 461.5 235.68 462.1 235.57 462.7 235.51 463.3 235.58 463.9 236.62 464.5 238.66 465.1 241.39 465.7 244.56 466.3 247.91 466.9 251.01 467.5 253.55 468.1 255.22 468.7 255.66 469.3 254.03 469.9 250.45 470.5 245.57 471.1 240.20 471.7 234.94 472.3 230.30 472.9 226.89 473.5 225.34 474.1 226.14 474.7 229.02 475.3 233.40 475.9 238.67 476.5 244.28 477.1 249.82 477.7 254.41 478.3 257.44 478.9 258.29 479.5 257.06 480.1 254.34 480.7 250.59 481.3 246.26 481.9 241.88 482.5 237.98 483.1 234.84 483.7 232.91 484.3 232.53 484.9 232.98 485.5 233.90 486.1 235.18 486.7 236.75 487.3 238.52 487.9 240.38 488.5 242.27 489.1 244.12 489.7 245.85 490.3 247.31 490.9 248.41 491.5 249.05 492.1 249.15 492.7 248.63 493.3 247.60 493.9 246.17 494.5 244.47 495.1 242.65 495.7 240.86 496.3 239.15 496.9 237.65 497.5 236.46 498.1 235.71 498.7 235.51 499.3 235.96 499.9 236.97 500.5 238.38 501.1 240.06 501.7 241.85 502.3 243.62 502.9 245.27 503.5 246.56 504.1 247.34 504.7 247.48 505.3 247.07 505.9 246.27 506.5 245.19 507.1 243.95 507.7 242.69 508.3 241.52 508.9 240.53 509.5 239.82 510.1 239.51 510.7 239.63 511.3 240.09 511.9 240.74 512.5 241.49 513.1 242.20 513.7 242.77 514.3 243.08 514.9 243.01 515.5 242.63 516.1 242.11 516.7 241.62 517.3 241.32 517.9 241.41 518.5 241.88 519.1 242.55 519.7 243.22 520.3 243.72 520.9 243.82 521.5 243.73 522.1 243.54 522.7 243.27 523.3 242.96 523.9 242.63 524.5 242.28 525.1 241.94 525.7 241.49 526.3 240.91 526.9 240.27 527.5 239.63 528.1 239.06 528.7 238.64 529.3 238.42 529.9 238.74 530.5 240.26 531.1 242.40 531.7 244.61 532.3 246.20 532.9 246.49 533.5 245.51 534.1 243.60" stroke-width="1.9"/>
<path d="M378.8 282.00L403.2 281.60" stroke-width="1.5"/>
<path d="M402.7 281.60 403.3 281.60 403.9 281.62 404.5 281.89 405.1 282.35 405.7 282.77 406.3 282.96 406.9 282.68 407.5 281.95 408.1 281.03 408.7 280.05 409.3 279.19 409.9 278.62 410.5 278.53 411.1 279.00 411.7 279.87 412.3 280.96 412.9 282.11 413.5 283.18 414.1 283.91 414.7 284.12 415.3 283.81 415.9 283.14 416.5 282.20 417.1 281.15 417.7 280.07 418.3 279.06 418.9 278.21 419.5 277.62 420.1 277.40 420.7 277.80 421.3 278.83 421.9 280.21 422.5 281.68 423.1 283.03 423.7 283.93 424.3 284.09 424.9 283.68 425.5 282.95 426.1 282.10 426.7 281.37 427.3 280.87 427.9 280.38 428.5 279.91 429.1 279.48 429.7 279.15 430.3 278.94 430.9 278.93 431.5 279.34 432.1 280.12 432.7 281.10 433.3 282.15 433.9 283.14 434.5 283.85 435.1 284.13 435.7 283.95 436.3 283.48 436.9 282.79 437.5 281.96 438.1 281.11 438.7 280.27 439.3 279.52 439.9 278.93 440.5 278.57 441.1 278.53 441.7 278.92 442.3 279.63 442.9 280.50 443.5 281.37 444.1 282.10 444.7 282.51 445.3 282.52 445.9 282.43 446.5 282.26 447.1 282.03 447.7 281.74 448.3 281.39 448.9 280.99 449.5 280.45 450.1 278.75 450.7 276.42 451.3 274.46 451.9 273.84 452.5 275.54 453.1 279.05 453.7 283.52 454.3 288.07 454.9 291.54 455.5 292.92 456.1 291.98 456.7 289.52 457.3 286.11 457.9 282.34 458.5 278.95 459.1 276.32 459.7 274.96 460.3 274.72 460.9 274.53 461.5 274.38 462.1 274.27 462.7 274.21 463.3 274.28 463.9 275.32 464.5 277.36 465.1 280.09 465.7 283.28 466.3 286.65 466.9 289.79 467.5 292.35 468.1 294.03 468.7 294.48 469.3 292.83 469.9 289.22 470.5 284.30 471.1 278.90 471.7 273.64 472.3 269.00 472.9 265.59 473.5 264.04 474.1 264.84 474.7 267.72 475.3 272.10 475.9 277.37 476.5 282.99 477.1 288.58 477.7 293.22 478.3 296.28 478.9 297.14 479.5 295.89 480.1 293.15 480.7 289.36 481.3 284.99 481.9 280.58 482.5 276.68 483.1 273.54 483.7 271.61 484.3 271.23 484.9 271.68 485.5 272.60 486.1 273.88 486.7 275.45 487.3 277.22 487.9 279.08 488.5 280.97 489.1 282.83 489.7 284.57 490.3 286.05 490.9 287.16 491.5 287.81 492.1 287.90 492.7 287.38 493.3 286.34 493.9 284.90 494.5 283.19 495.1 281.35 495.7 279.56 496.3 277.85 496.9 276.35 497.5 275.16 498.1 274.41 498.7 274.21 499.3 274.66 499.9 275.67 500.5 277.08 501.1 278.76 501.7 280.55 502.3 282.33 502.9 283.99 503.5 285.29 504.1 286.08 504.7 286.22 505.3 285.80 505.9 284.99 506.5 283.91 507.1 282.65 507.7 281.39 508.3 280.22 508.9 279.23 509.5 278.52 510.1 278.21 510.7 278.33 511.3 278.79 511.9 279.44 512.5 280.19 513.1 280.90 513.7 281.47 514.3 281.78 514.9 281.71 515.5 281.33 516.1 280.81 516.7 280.32 517.3 280.02 517.9 280.11 518.5 280.58 519.1 281.25 519.7 281.92 520.3 282.42 520.9 282.53 521.5 282.43 522.1 282.24 522.7 281.97 523.3 281.66 523.9 281.33 524.5 280.98 525.1 280.64 525.7 280.19 526.3 279.61 526.9 278.97 527.5 278.33 528.1 277.76 528.7 277.34 529.3 277.12 529.9 277.44 530.5 278.96 531.1 281.10 531.7 283.33 532.3 284.93 532.9 285.22 533.5 284.23 534.1 282.30" stroke-width="1.9"/>
<path d="M378.8 319.90L403.2 319.50" stroke-width="1.5"/>
<path d="M402.7 319.50 403.3 319.50 403.9 319.52 404.5 319.79 405.1 320.25 405.7 320.68 406.3 320.87 406.9 320.58 407.5 319.85 408.1 318.93 408.7 317.95 409.3 317.09 409.9 316.52 410.5 316.43 411.1 316.90 411.7 317.77 412.3 318.86 412.9 320.01 413.5 321.09 414.1 321.83 414.7 322.04 415.3 321.73 415.9 321.05 416.5 320.10 417.1 319.05 417.7 317.97 418.3 316.96 418.9 316.11 419.5 315.52 420.1 315.30 420.7 315.70 421.3 316.73 421.9 318.11 422.5 319.58 423.1 320.94 423.7 321.85 424.3 322.02 424.9 321.60 425.5 320.86 426.1 320.00 426.7 319.27 427.3 318.77 427.9 318.28 428.5 317.81 429.1 317.38 429.7 317.05 430.3 316.84 430.9 316.83 431.5 317.24 432.1 318.02 432.7 319.00 433.3 320.05 433.9 321.05 434.5 321.77 435.1 322.05 435.7 321.87 436.3 321.40 436.9 320.70 437.5 319.86 438.1 319.01 438.7 318.17 439.3 317.42 439.9 316.83 440.5 316.47 441.1 316.43 441.7 316.82 442.3 317.53 442.9 318.40 443.5 319.27 444.1 320.00 444.7 320.41 445.3 320.42 445.9 320.33 446.5 320.17 447.1 319.93 447.7 319.64 448.3 319.29 448.9 318.89 449.5 318.35 450.1 316.65 450.7 314.32 451.3 312.36 451.9 311.74 452.5 313.44 453.1 316.95 453.7 321.43 454.3 326.03 454.9 329.54 455.5 330.93 456.1 329.97 456.7 327.49 457.3 324.05 457.9 320.25 458.5 316.85 459.1 314.22 459.7 312.86 460.3 312.62 460.9 312.43 461.5 312.28 462.1 312.17 462.7 312.11 463.3 312.18 463.9 313.22 464.5 315.26 465.1 317.99 465.7 321.19 466.3 324.60 466.9 327.76 467.5 330.35 468.1 332.04 468.7 332.50 469.3 330.83 469.9 327.19 470.5 322.22 471.1 316.80 471.7 311.54 472.3 306.90 472.9 303.49 473.5 301.94 474.1 302.74 474.7 305.62 475.3 310.00 475.9 315.27 476.5 320.91 477.1 326.54 477.7 331.22 478.3 334.31 478.9 335.18 479.5 333.93 480.1 331.15 480.7 327.33 481.3 322.92 481.9 318.48 482.5 314.58 483.1 311.44 483.7 309.51 484.3 309.13 484.9 309.58 485.5 310.50 486.1 311.78 486.7 313.35 487.3 315.12 487.9 316.98 488.5 318.87 489.1 320.74 489.7 322.50 490.3 323.99 490.9 325.11 491.5 325.77 492.1 325.86 492.7 325.33 493.3 324.28 493.9 322.83 494.5 321.10 495.1 319.25 495.7 317.46 496.3 315.75 496.9 314.25 497.5 313.06 498.1 312.31 498.7 312.11 499.3 312.56 499.9 313.57 500.5 314.98 501.1 316.66 501.7 318.45 502.3 320.23 502.9 321.90 503.5 323.22 504.1 324.02 504.7 324.16 505.3 323.74 505.9 322.92 506.5 321.83 507.1 320.56 507.7 319.29 508.3 318.12 508.9 317.13 509.5 316.42 510.1 316.11 510.7 316.23 511.3 316.69 511.9 317.34 512.5 318.09 513.1 318.80 513.7 319.37 514.3 319.68 514.9 319.61 515.5 319.23 516.1 318.71 516.7 318.22 517.3 317.92 517.9 318.01 518.5 318.48 519.1 319.15 519.7 319.82 520.3 320.33 520.9 320.44 521.5 320.34 522.1 320.14 522.7 319.87 523.3 319.56 523.9 319.23 524.5 318.88 525.1 318.54 525.7 318.09 526.3 317.51 526.9 316.87 527.5 316.23 528.1 315.66 528.7 315.24 529.3 315.02 529.9 315.34 530.5 316.86 531.1 319.00 531.7 321.24 532.3 322.86 532.9 323.15 533.5 322.15 534.1 320.20" stroke-width="1.9"/>
<path d="M378.8 358.77 379.3 358.93 379.8 358.78 380.3 358.33 380.8 358.02 381.3 358.07 381.8 358.26 382.3 358.31 382.8 358.17 383.3 358.13 383.8 358.38 384.3 358.54 384.8 358.45 385.3 358.29 385.8 358.27 386.3 358.44 386.8 358.50 387.3 358.37 387.8 358.24 388.3 358.06 388.8 357.72 389.3 357.55 389.8 357.58 390.3 357.40 390.8 357.16 391.3 357.19 391.8 357.28 392.3 357.26 392.8 357.44 393.3 357.93 393.8 358.26 394.3 358.18 394.8 358.12 395.3 358.30 395.8 358.46 396.3 358.50 396.8 358.59 397.3 358.55 397.8 358.26 398.3 358.09 398.8 358.25 399.3 358.44 399.8 358.27 400.3 357.80 400.8 357.43 401.3 357.28 401.8 357.41 402.3 357.80 402.8 358.02 403.3 357.93" stroke-width="2.6"/>
<path d="M402.7 357.90 403.3 357.90 403.9 357.92 404.5 358.19 405.1 358.66 405.7 359.09 406.3 359.28 406.9 358.99 407.5 358.25 408.1 357.33 408.7 356.35 409.3 355.49 409.9 354.92 410.5 354.83 411.1 355.30 411.7 356.17 412.3 357.26 412.9 358.42 413.5 359.50 414.1 360.25 414.7 360.46 415.3 360.15 415.9 359.46 416.5 358.50 417.1 357.45 417.7 356.37 418.3 355.36 418.9 354.51 419.5 353.92 420.1 353.70 420.7 354.10 421.3 355.13 421.9 356.51 422.5 357.98 423.1 359.35 423.7 360.27 424.3 360.44 424.9 360.01 425.5 359.27 426.1 358.40 426.7 357.67 427.3 357.17 427.9 356.68 428.5 356.21 429.1 355.78 429.7 355.45 430.3 355.24 430.9 355.23 431.5 355.64 432.1 356.42 432.7 357.40 433.3 358.46 433.9 359.46 434.5 360.19 435.1 360.47 435.7 360.29 436.3 359.81 436.9 359.11 437.5 358.26 438.1 357.41 438.7 356.57 439.3 355.82 439.9 355.23 440.5 354.87 441.1 354.83 441.7 355.22 442.3 355.93 442.9 356.80 443.5 357.67 444.1 358.40 444.7 358.82 445.3 358.83 445.9 358.74 446.5 358.57 447.1 358.33 447.7 358.04 448.3 357.69 448.9 357.29 449.5 356.75 450.1 355.05 450.7 352.72 451.3 350.76 451.9 350.14 452.5 351.84 453.1 355.35 453.7 359.85 454.3 364.49 454.9 368.03 455.5 369.43 456.1 368.47 456.7 365.96 457.3 362.49 457.9 358.65 458.5 355.25 459.1 352.62 459.7 351.26 460.3 351.02 460.9 350.83 461.5 350.68 462.1 350.57 462.7 350.51 463.3 350.58 463.9 351.62 464.5 353.66 465.1 356.39 465.7 359.60 466.3 363.04 466.9 366.24 467.5 368.85 468.1 370.56 468.7 371.01 469.3 369.34 469.9 365.66 470.5 360.64 471.1 355.20 471.7 349.94 472.3 345.30 472.9 341.89 473.5 340.34 474.1 341.14 474.7 344.02 475.3 348.40 475.9 353.67 476.5 359.32 477.1 365.00 477.7 369.73 478.3 372.85 478.9 373.72 479.5 372.46 480.1 369.66 480.7 365.80 481.3 361.35 481.9 356.88 482.5 352.98 483.1 349.84 483.7 347.91 484.3 347.53 484.9 347.98 485.5 348.90 486.1 350.18 486.7 351.75 487.3 353.52 487.9 355.38 488.5 357.27 489.1 359.15 489.7 360.92 490.3 362.43 490.9 363.56 491.5 364.22 492.1 364.32 492.7 363.79 493.3 362.72 493.9 361.26 494.5 359.51 495.1 357.65 495.7 355.86 496.3 354.15 496.9 352.65 497.5 351.46 498.1 350.71 498.7 350.51 499.3 350.96 499.9 351.97 500.5 353.38 501.1 355.06 501.7 356.85 502.3 358.63 502.9 360.32 503.5 361.65 504.1 362.46 504.7 362.60 505.3 362.18 505.9 361.35 506.5 360.24 507.1 358.97 507.7 357.69 508.3 356.52 508.9 355.53 509.5 354.82 510.1 354.51 510.7 354.63 511.3 355.09 511.9 355.74 512.5 356.49 513.1 357.20 513.7 357.77 514.3 358.08 514.9 358.01 515.5 357.63 516.1 357.11 516.7 356.62 517.3 356.32 517.9 356.41 518.5 356.88 519.1 357.55 519.7 358.22 520.3 358.73 520.9 358.84 521.5 358.74 522.1 358.55 522.7 358.27 523.3 357.96 523.9 357.63 524.5 357.28 525.1 356.94 525.7 356.49 526.3 355.91 526.9 355.27 527.5 354.63 528.1 354.06 528.7 353.64 529.3 353.42 529.9 353.74 530.5 355.26 531.1 357.40 531.7 359.65 532.3 361.28 532.9 361.58 533.5 360.58 534.1 358.61" stroke-width="1.9"/>
<path d="M378.8 397.60L403.2 397.20" stroke-width="1.5"/>
<path d="M402.7 397.20 403.3 397.20 403.9 397.22 404.5 397.49 405.1 397.96 405.7 398.40 406.3 398.59 406.9 398.30 407.5 397.55 408.1 396.63 408.7 395.65 409.3 394.79 409.9 394.22 410.5 394.13 411.1 394.60 411.7 395.47 412.3 396.56 412.9 397.72 413.5 398.81 414.1 399.56 414.7 399.78 415.3 399.47 415.9 398.77 416.5 397.81 417.1 396.75 417.7 395.67 418.3 394.66 418.9 393.81 419.5 393.22 420.1 393.00 420.7 393.40 421.3 394.43 421.9 395.81 422.5 397.28 423.1 398.66 423.7 399.59 424.3 399.76 424.9 399.33 425.5 398.58 426.1 397.70 426.7 396.97 427.3 396.47 427.9 395.98 428.5 395.51 429.1 395.08 429.7 394.75 430.3 394.54 430.9 394.53 431.5 394.94 432.1 395.72 432.7 396.70 433.3 397.76 433.9 398.77 434.5 399.51 435.1 399.79 435.7 399.61 436.3 399.13 436.9 398.42 437.5 397.56 438.1 396.71 438.7 395.87 439.3 395.12 439.9 394.53 440.5 394.17 441.1 394.13 441.7 394.52 442.3 395.23 442.9 396.10 443.5 396.97 444.1 397.70 444.7 398.12 445.3 398.14 445.9 398.04 446.5 397.87 447.1 397.63 447.7 397.34 448.3 396.99 448.9 396.59 449.5 396.05 450.1 394.35 450.7 392.02 451.3 390.06 451.9 389.44 452.5 391.14 453.1 394.65 453.7 399.16 454.3 403.85 454.9 407.42 455.5 408.84 456.1 407.86 456.7 405.33 457.3 401.83 457.9 397.96 458.5 394.55 459.1 391.92 459.7 390.56 460.3 390.32 460.9 390.13 461.5 389.98 462.1 389.87 462.7 389.81 463.3 389.88 463.9 390.92 464.5 392.96 465.1 395.69 465.7 398.92 466.3 402.39 466.9 405.61 467.5 408.25 468.1 409.97 468.7 410.43 469.3 408.74 469.9 405.03 470.5 399.96 471.1 394.50 471.7 389.24 472.3 384.60 472.9 381.19 473.5 379.64 474.1 380.44 474.7 383.32 475.3 387.70 475.9 392.97 476.5 398.63 477.1 404.37 477.7 409.14 478.3 412.28 478.9 413.17 479.5 411.89 480.1 409.07 480.7 405.17 481.3 400.68 481.9 396.18 482.5 392.28 483.1 389.14 483.7 387.21 484.3 386.83 484.9 387.28 485.5 388.20 486.1 389.48 486.7 391.05 487.3 392.82 487.9 394.68 488.5 396.57 489.1 398.46 489.7 400.25 490.3 401.77 490.9 402.91 491.5 403.58 492.1 403.67 492.7 403.14 493.3 402.07 493.9 400.59 494.5 398.82 495.1 396.95 495.7 395.16 496.3 393.45 496.9 391.95 497.5 390.76 498.1 390.01 498.7 389.81 499.3 390.26 499.9 391.27 500.5 392.68 501.1 394.36 501.7 396.15 502.3 397.94 502.9 399.64 503.5 400.99 504.1 401.80 504.7 401.94 505.3 401.51 505.9 400.68 506.5 399.56 507.1 398.28 507.7 396.99 508.3 395.82 508.9 394.83 509.5 394.12 510.1 393.81 510.7 393.93 511.3 394.39 511.9 395.04 512.5 395.79 513.1 396.50 513.7 397.07 514.3 397.38 514.9 397.31 515.5 396.93 516.1 396.41 516.7 395.92 517.3 395.62 517.9 395.71 518.5 396.18 519.1 396.85 519.7 397.52 520.3 398.04 520.9 398.15 521.5 398.05 522.1 397.85 522.7 397.57 523.3 397.26 523.9 396.93 524.5 396.58 525.1 396.24 525.7 395.79 526.3 395.21 526.9 394.57 527.5 393.93 528.1 393.36 528.7 392.94 529.3 392.72 529.9 393.04 530.5 394.56 531.1 396.70 531.7 398.97 532.3 400.61 532.9 400.91 533.5 399.90 534.1 397.91" stroke-width="1.9"/>
</g>
<g stroke="#e82626">
<path d="M378.8 436.00L403.2 435.60" stroke-width="1.4"/>
<path d="M402.7 435.60 403.3 435.60 403.9 435.62 404.5 435.89 405.1 436.36 405.7 436.79 406.3 436.98 406.9 436.69 407.5 435.95 408.1 435.03 408.7 434.05 409.3 433.19 409.9 432.62 410.5 432.53 411.1 433.00 411.7 433.87 412.3 434.96 412.9 436.12 413.5 437.20 414.1 437.95 414.7 438.16 415.3 437.85 415.9 437.16 416.5 436.20 417.1 435.15 417.7 434.07 418.3 433.06 418.9 432.21 419.5 431.62 420.1 431.40 420.7 431.80 421.3 432.83 421.9 434.21 422.5 435.68 423.1 437.05 423.7 437.97 424.3 438.14 424.9 437.71 425.5 436.97 426.1 436.10 426.7 435.37 427.3 434.87 427.9 434.38 428.5 433.91 429.1 433.48 429.7 433.15 430.3 432.94 430.9 432.93 431.5 433.34 432.1 434.12 432.7 435.10 433.3 436.16 433.9 437.16 434.5 437.89 435.1 438.17 435.7 437.99 436.3 437.51 436.9 436.81 437.5 435.96 438.1 435.11 438.7 434.27 439.3 433.52 439.9 432.93 440.5 432.57 441.1 432.53 441.7 432.92 442.3 433.63 442.9 434.50 443.5 435.37 444.1 436.10 444.7 436.52 445.3 436.53 445.9 436.44 446.5 436.27 447.1 436.03 447.7 435.74 448.3 435.39 448.9 434.99 449.5 434.45 450.1 432.75 450.7 430.42 451.3 428.46 451.9 427.84 452.5 429.54 453.1 433.05 453.7 437.55 454.3 442.19 454.9 445.73 455.5 447.13 456.1 446.17 456.7 443.66 457.3 440.19 457.9 436.35 458.5 432.95 459.1 430.32 459.7 428.96 460.3 428.72 460.9 428.53 461.5 428.38 462.1 428.27 462.7 428.21 463.3 428.28 463.9 429.32 464.5 431.36 465.1 434.09 465.7 437.30 466.3 440.74 466.9 443.94 467.5 446.55 468.1 448.26 468.7 448.71 469.3 447.04 469.9 443.36 470.5 438.34 471.1 432.90 471.7 427.64 472.3 423.00 472.9 419.59 473.5 418.04 474.1 418.84 474.7 421.72 475.3 426.10 475.9 431.37 476.5 437.02 477.1 442.70 477.7 447.43 478.3 450.55 478.9 451.42 479.5 450.16 480.1 447.36 480.7 443.50 481.3 439.05 481.9 434.58 482.5 430.68 483.1 427.54 483.7 425.61 484.3 425.23 484.9 425.68 485.5 426.60 486.1 427.88 486.7 429.45 487.3 431.22 487.9 433.08 488.5 434.97 489.1 436.85 489.7 438.62 490.3 440.13 490.9 441.26 491.5 441.92 492.1 442.02 492.7 441.49 493.3 440.42 493.9 438.96 494.5 437.21 495.1 435.35 495.7 433.56 496.3 431.85 496.9 430.35 497.5 429.16 498.1 428.41 498.7 428.21 499.3 428.66 499.9 429.67 500.5 431.08 501.1 432.76 501.7 434.55 502.3 436.33 502.9 438.02 503.5 439.35 504.1 440.16 504.7 440.30 505.3 439.88 505.9 439.05 506.5 437.94 507.1 436.67 507.7 435.39 508.3 434.22 508.9 433.23 509.5 432.52 510.1 432.21 510.7 432.33 511.3 432.79 511.9 433.44 512.5 434.19 513.1 434.90 513.7 435.47 514.3 435.78 514.9 435.71 515.5 435.33 516.1 434.81 516.7 434.32 517.3 434.02 517.9 434.11 518.5 434.58 519.1 435.25 519.7 435.92 520.3 436.43 520.9 436.54 521.5 436.44 522.1 436.25 522.7 435.97 523.3 435.66 523.9 435.33 524.5 434.98 525.1 434.64 525.7 434.19 526.3 433.61 526.9 432.97 527.5 432.33 528.1 431.76 528.7 431.34 529.3 431.12 529.9 431.44 530.5 432.96 531.1 435.10 531.7 437.35 532.3 438.98 532.9 439.28 533.5 438.28 534.1 436.31" stroke-width="1.7"/>
</g>
</g>
<rect x="378.8" y="14.5" width="155.5" height="478.4" fill="none" stroke="#555" stroke-width="1.4" rx="1"/>
<line x1="430.6" y1="14.5" x2="430.6" y2="18.5" stroke="#555" stroke-width="1"/>
<line x1="430.6" y1="492.9" x2="430.6" y2="488.9" stroke="#555" stroke-width="1"/>
<line x1="482.5" y1="14.5" x2="482.5" y2="18.5" stroke="#555" stroke-width="1"/>
<line x1="482.5" y1="492.9" x2="482.5" y2="488.9" stroke="#555" stroke-width="1"/>
<text x="47.88" y="28.31" font-family="'Liberation Serif', 'Times New Roman', serif" font-size="15.66" font-weight="normal" fill="#1a1a1a" stroke="#1a1a1a" stroke-width="0.25" textLength="20.84" lengthAdjust="spacingAndGlyphs">(a)</text>
<text x="215.07" y="28.31" font-family="'Liberation Serif', 'Times New Roman', serif" font-size="15.66" font-weight="normal" fill="#1a1a1a" stroke="#1a1a1a" stroke-width="0.25" textLength="22.08" lengthAdjust="spacingAndGlyphs">(b)</text>
<text x="382.86" y="28.31" font-family="'Liberation Serif', 'Times New Roman', serif" font-size="15.66" font-weight="normal" fill="#1a1a1a" stroke="#1a1a1a" stroke-width="0.25" textLength="21.38" lengthAdjust="spacingAndGlyphs">(c)</text>
<text x="139.54" y="28.25" font-family="'Liberation Serif', 'Times New Roman', serif" font-size="15.14" font-weight="normal" fill="#1a1a1a" stroke="#1a1a1a" stroke-width="0.25" textLength="56.28" lengthAdjust="spacing">Vertical</text>
<text x="336.93" y="28.54" font-family="'Liberation Serif', 'Times New Roman', serif" font-size="15.60" font-weight="normal" fill="#1a1a1a" stroke="#1a1a1a" stroke-width="0.25" textLength="25.72" lengthAdjust="spacing">EW</text>
<text x="510.91" y="28.32" font-family="'Liberation Serif', 'Times New Roman', serif" font-size="15.45" font-weight="normal" fill="#1a1a1a" stroke="#1a1a1a" stroke-width="0.25" textLength="22.06" lengthAdjust="spacing">NS</text>
<text x="23.75" y="57.77" font-family="'Liberation Serif', 'Times New Roman', serif" font-size="16.00" font-weight="normal" fill="#1a1a1a" stroke="#1a1a1a" stroke-width="0.25" textLength="17.31" lengthAdjust="spacingAndGlyphs">10</text>
<text x="31.60" y="96.33" font-family="'Liberation Serif', 'Times New Roman', serif" font-size="16.10" font-weight="normal" fill="#1a1a1a" stroke="#1a1a1a" stroke-width="0.25" textLength="8.16" lengthAdjust="spacingAndGlyphs">9</text>
<text x="31.52" y="134.23" font-family="'Liberation Serif', 'Times New Roman', serif" font-size="16.10" font-weight="normal" fill="#1a1a1a" stroke="#1a1a1a" stroke-width="0.25" textLength="8.15" lengthAdjust="spacingAndGlyphs">8</text>
<text x="31.24" y="172.43" font-family="'Liberation Serif', 'Times New Roman', serif" font-size="16.10" font-weight="normal" fill="#1a1a1a" stroke="#1a1a1a" stroke-width="0.25" textLength="8.14" lengthAdjust="spacingAndGlyphs">7</text>
<text x="31.44" y="210.53" font-family="'Liberation Serif', 'Times New Roman', serif" font-size="16.10" font-weight="normal" fill="#1a1a1a" stroke="#1a1a1a" stroke-width="0.25" textLength="8.16" lengthAdjust="spacingAndGlyphs">6</text>
<text x="31.37" y="249.13" font-family="'Liberation Serif', 'Times New Roman', serif" font-size="16.10" font-weight="normal" fill="#1a1a1a" stroke="#1a1a1a" stroke-width="0.25" textLength="8.14" lengthAdjust="spacingAndGlyphs">5</text>
<text x="31.47" y="287.12" font-family="'Liberation Serif', 'Times New Roman', serif" font-size="16.10" font-weight="normal" fill="#1a1a1a" stroke="#1a1a1a" stroke-width="0.25" textLength="8.18" lengthAdjust="spacingAndGlyphs">4</text>
<text x="31.48" y="325.12" font-family="'Liberation Serif', 'Times New Roman', serif" font-size="16.10" font-weight="normal" fill="#1a1a1a" stroke="#1a1a1a" stroke-width="0.25" textLength="8.15" lengthAdjust="spacingAndGlyphs">3</text>
<text x="31.61" y="362.93" font-family="'Liberation Serif', 'Times New Roman', serif" font-size="16.10" font-weight="normal" fill="#1a1a1a" stroke="#1a1a1a" stroke-width="0.25" textLength="8.14" lengthAdjust="spacingAndGlyphs">2</text>
<text x="31.35" y="402.02" font-family="'Liberation Serif', 'Times New Roman', serif" font-size="16.10" font-weight="normal" fill="#1a1a1a" stroke="#1a1a1a" stroke-width="0.25" textLength="8.10" lengthAdjust="spacingAndGlyphs">1</text>
<text transform="translate(19.71 312.64) rotate(-90)" x="0" y="0" font-family="'Liberation Serif', 'Times New Roman', serif" font-size="16.15" font-weight="normal" fill="#1a1a1a" stroke="#1a1a1a" stroke-width="0.25" textLength="132.01" lengthAdjust="spacingAndGlyphs">Number of excitation</text>
<text x="59.12" y="473.94" font-family="'Liberation Serif', 'Times New Roman', serif" font-size="15.94" font-weight="normal" fill="#df2434" stroke="#df2434" stroke-width="0.20" textLength="124.62" lengthAdjust="spacing">Stacked waveform</text>
<text x="227.01" y="473.94" font-family="'Liberation Serif', 'Times New Roman', serif" font-size="15.94" font-weight="normal" fill="#df2434" stroke="#df2434" stroke-width="0.20" textLength="125.13" lengthAdjust="spacing">Stacked waveform</text>
<text x="394.41" y="473.94" font-family="'Liberation Serif', 'Times New Roman', serif" font-size="15.94" font-weight="normal" fill="#df2434" stroke="#df2434" stroke-width="0.20" textLength="125.13" lengthAdjust="spacing">Stacked waveform</text>
<text x="33.66" y="506.99" font-family="'Liberation Serif', 'Times New Roman', serif" font-size="13.68" font-weight="normal" fill="#1a1a1a" stroke="#1a1a1a" stroke-width="0.40" textLength="19.87" lengthAdjust="spacingAndGlyphs">0.5</text>
<text x="85.73" y="506.99" font-family="'Liberation Serif', 'Times New Roman', serif" font-size="13.68" font-weight="normal" fill="#1a1a1a" stroke="#1a1a1a" stroke-width="0.40" textLength="20.11" lengthAdjust="spacingAndGlyphs">1.0</text>
<text x="135.27" y="506.99" font-family="'Liberation Serif', 'Times New Roman', serif" font-size="13.78" font-weight="normal" fill="#1a1a1a" stroke="#1a1a1a" stroke-width="0.40" textLength="21.00" lengthAdjust="spacingAndGlyphs">1.5</text>
<text x="193.07" y="507.20" font-family="'Liberation Serif', 'Times New Roman', serif" font-size="14.09" font-weight="normal" fill="#1a1a1a" stroke="#1a1a1a" stroke-width="0.40" textLength="8.13" lengthAdjust="spacingAndGlyphs">2</text>
<text x="202.44" y="506.99" font-family="'Liberation Serif', 'Times New Roman', serif" font-size="13.68" font-weight="normal" fill="#1a1a1a" stroke="#1a1a1a" stroke-width="0.40" textLength="20.51" lengthAdjust="spacingAndGlyphs">0.5</text>
<text x="255.61" y="506.99" font-family="'Liberation Serif', 'Times New Roman', serif" font-size="13.68" font-weight="normal" fill="#1a1a1a" stroke="#1a1a1a" stroke-width="0.40" textLength="19.00" lengthAdjust="spacingAndGlyphs">1.0</text>
<text x="306.92" y="506.99" font-family="'Liberation Serif', 'Times New Roman', serif" font-size="13.78" font-weight="normal" fill="#1a1a1a" stroke="#1a1a1a" stroke-width="0.40" textLength="18.78" lengthAdjust="spacingAndGlyphs">1.5</text>
<text x="361.99" y="507.20" font-family="'Liberation Serif', 'Times New Roman', serif" font-size="14.09" font-weight="normal" fill="#1a1a1a" stroke="#1a1a1a" stroke-width="0.40" textLength="9.00" lengthAdjust="spacingAndGlyphs">2</text>
<text x="371.74" y="506.99" font-family="'Liberation Serif', 'Times New Roman', serif" font-size="13.68" font-weight="normal" fill="#1a1a1a" stroke="#1a1a1a" stroke-width="0.40" textLength="20.51" lengthAdjust="spacingAndGlyphs">0.5</text>
<text x="424.22" y="506.99" font-family="'Liberation Serif', 'Times New Roman', serif" font-size="13.68" font-weight="normal" fill="#1a1a1a" stroke="#1a1a1a" stroke-width="0.40" textLength="18.89" lengthAdjust="spacingAndGlyphs">1.0</text>
<text x="475.17" y="506.99" font-family="'Liberation Serif', 'Times New Roman', serif" font-size="13.78" font-weight="normal" fill="#1a1a1a" stroke="#1a1a1a" stroke-width="0.40" textLength="19.56" lengthAdjust="spacingAndGlyphs">1.5</text>
<text x="531.40" y="507.20" font-family="'Liberation Serif', 'Times New Roman', serif" font-size="14.09" font-weight="normal" fill="#1a1a1a" stroke="#1a1a1a" stroke-width="0.40" textLength="8.87" lengthAdjust="spacingAndGlyphs">2</text>
<text x="99.51" y="524.50" font-family="'Liberation Serif', 'Times New Roman', serif" font-size="15.90" font-weight="normal" fill="#1a1a1a" stroke="#1a1a1a" stroke-width="0.25" textLength="53.99" lengthAdjust="spacingAndGlyphs">Time (s)</text>
<text x="266.80" y="524.50" font-family="'Liberation Serif', 'Times New Roman', serif" font-size="15.90" font-weight="normal" fill="#1a1a1a" stroke="#1a1a1a" stroke-width="0.25" textLength="54.20" lengthAdjust="spacingAndGlyphs">Time (s)</text>
<text x="433.59" y="524.50" font-family="'Liberation Serif', 'Times New Roman', serif" font-size="15.90" font-weight="normal" fill="#1a1a1a" stroke="#1a1a1a" stroke-width="0.25" textLength="56.44" lengthAdjust="spacingAndGlyphs">Time (s)</text>
<line x1="50.4" y1="676.3" x2="521.5" y2="676.3" stroke="#b8b8b8" stroke-width="2.4"/>
<line x1="50.4" y1="785.8" x2="521.5" y2="785.8" stroke="#b8b8b8" stroke-width="2.4"/>
<polyline points="50.6,667.8 55.5,666.5 64.5,670.0 69.1,669.6 79.1,660.5 83.6,658.4 88.5,660.9 93.1,645.1 97.6,660.2 102.7,660.9 107.8,626.0 112.2,618.7 116.7,608.7 121.5,646.5 126.0,634.2 130.9,644.7 135.8,571.5 140.0,597.8 145.1,657.8 154.5,624.5 159.1,629.6 163.6,646.0 168.2,656.0 172.7,666.4 177.8,660.9 182.7,669.3 187.3,667.5 196.4,667.8 201.3,660.2 205.8,664.2 210.9,660.9 214.9,648.7 220.0,654.2 224.9,665.1 229.5,654.7 234.1,652.6 239.5,659.5 245.0,664.6 251.8,666.8 260.0,670.1 266.8,670.9 273.6,668.2 277.7,667.6 282.4,664.6 288.6,666.3 295.4,669.8 302.3,667.4 309.1,668.2 315.9,667.6 320.0,669.3 324.1,668.2 329.5,669.3 335.0,668.2 343.2,666.8 350.0,668.7 356.8,666.8 362.3,666.5 367.7,669.8 379.9,670.0 385.5,667.8 392.5,669.5 403.8,670.6 420.7,670.3 430.6,669.2 439.0,670.3 450.3,669.5 460.2,670.6 521.4,670.6" fill="none" stroke="#0a0ad0" stroke-width="2.4" stroke-linejoin="round"/>
<polyline points="50.6,774.2 53.6,775.6 60.0,779.6 69.1,780.7 74.5,776.9 79.1,774.2 83.6,772.7 88.2,769.6 93.1,760.0 97.6,775.6 102.7,774.2 107.8,750.5 112.7,742.4 117.3,742.9 121.8,746.5 126.4,742.9 130.9,738.7 135.5,696.0 139.5,681.8 144.5,757.8 149.1,767.8 154.2,747.3 159.1,752.4 163.6,743.3 168.7,759.6 173.1,771.5 177.8,776.0 182.7,770.5 187.6,763.6 191.8,747.8 196.4,743.3 200.9,734.2 205.5,718.7 210.5,739.6 215.5,747.8 220.0,754.2 224.5,776.0 229.1,774.2 234.0,769.8 239.5,777.8 246.4,776.5 251.8,773.7 257.3,778.1 268.2,778.1 275.0,776.7 281.8,780.0 290.0,778.6 298.2,780.5 313.2,779.4 318.6,780.8 344.5,780.5 347.3,779.4 366.4,780.5 374.5,780.0 380.0,781.0 521.4,781.0" fill="none" stroke="#0a0ad0" stroke-width="2.4" stroke-linejoin="round"/>
<polyline points="50.6,885.9 55.5,889.2 60.0,890.1 64.5,892.3 69.1,891.4 74.5,886.8 79.1,882.3 83.6,882.3 88.5,875.9 93.1,866.3 97.6,886.8 102.4,889.0 107.3,872.3 111.8,859.5 116.4,853.7 121.3,853.4 126.0,869.5 130.0,845.0 135.1,795.0 140.0,791.4 149.1,884.5 154.2,872.7 159.1,877.3 163.6,879.1 168.2,873.3 172.7,876.9 177.3,881.5 181.8,883.6 186.9,886.0 191.8,881.8 196.4,880.0 200.9,875.1 205.5,884.2 210.0,883.1 214.5,888.5 219.5,880.9 224.5,884.5 229.5,889.1 234.1,887.3 238.7,885.1 243.6,892.2 249.1,891.4 257.3,890.8 266.8,893.3 275.8,888.6 281.8,891.9 295.4,890.8 300.9,892.2 317.3,892.2 322.7,890.5 329.5,892.7 333.6,892.7 339.1,889.5 344.5,889.2 350.0,890.5 360.9,889.5 371.8,891.4 381.3,889.9 392.5,891.8 412.3,892.4 426.4,893.0 440.5,891.3 451.7,893.0 463.0,893.0 471.5,891.6 485.6,890.4 496.8,891.3 505.3,893.0 521.4,893.0" fill="none" stroke="#0a0ad0" stroke-width="2.4" stroke-linejoin="round"/>
<line x1="137.4" y1="571.5" x2="137.4" y2="884.0" stroke="#000" stroke-width="2.5" stroke-dasharray="7 2.45" stroke-dashoffset="4.9"/>
<line x1="205.8" y1="679.6" x2="205.8" y2="782.7" stroke="#ff0000" stroke-width="2.1" stroke-dasharray="10.2 4.3" stroke-dashoffset="5.9"/>
<rect x="50.4" y="566.0" width="471.1" height="331.8" fill="none" stroke="#444" stroke-width="1.75" rx="1.5"/>
<line x1="48.4" y1="670.6" x2="50.4" y2="670.6" stroke="#333" stroke-width="1"/>
<line x1="48.4" y1="650.9" x2="50.4" y2="650.9" stroke="#333" stroke-width="1"/>
<line x1="48.4" y1="631.2" x2="50.4" y2="631.2" stroke="#333" stroke-width="1"/>
<line x1="48.4" y1="611.5" x2="50.4" y2="611.5" stroke="#333" stroke-width="1"/>
<line x1="48.4" y1="591.8" x2="50.4" y2="591.8" stroke="#333" stroke-width="1"/>
<line x1="48.4" y1="572.1" x2="50.4" y2="572.1" stroke="#333" stroke-width="1"/>
<line x1="48.4" y1="780.2" x2="50.4" y2="780.2" stroke="#333" stroke-width="1"/>
<line x1="48.4" y1="760.5" x2="50.4" y2="760.5" stroke="#333" stroke-width="1"/>
<line x1="48.4" y1="740.8" x2="50.4" y2="740.8" stroke="#333" stroke-width="1"/>
<line x1="48.4" y1="721.1" x2="50.4" y2="721.1" stroke="#333" stroke-width="1"/>
<line x1="48.4" y1="701.4" x2="50.4" y2="701.4" stroke="#333" stroke-width="1"/>
<line x1="48.4" y1="681.7" x2="50.4" y2="681.7" stroke="#333" stroke-width="1"/>
<line x1="48.4" y1="892.0" x2="50.4" y2="892.0" stroke="#333" stroke-width="1"/>
<line x1="48.4" y1="872.3" x2="50.4" y2="872.3" stroke="#333" stroke-width="1"/>
<line x1="48.4" y1="852.6" x2="50.4" y2="852.6" stroke="#333" stroke-width="1"/>
<line x1="48.4" y1="832.9" x2="50.4" y2="832.9" stroke="#333" stroke-width="1"/>
<line x1="48.4" y1="813.2" x2="50.4" y2="813.2" stroke="#333" stroke-width="1"/>
<line x1="48.4" y1="793.5" x2="50.4" y2="793.5" stroke="#333" stroke-width="1"/>
<line x1="50.4" y1="897.8" x2="50.4" y2="901.3" stroke="#333" stroke-width="1.2"/>
<text x="48.61" y="912.90" font-family="'Liberation Sans', Arial, sans-serif" font-size="10.42" font-weight="bold" fill="#222" textLength="5.39" lengthAdjust="spacingAndGlyphs">0</text>
<line x1="144.6" y1="897.8" x2="144.6" y2="901.3" stroke="#333" stroke-width="1.2"/>
<text x="140.27" y="912.90" font-family="'Liberation Sans', Arial, sans-serif" font-size="10.42" font-weight="bold" fill="#222" textLength="9.91" lengthAdjust="spacingAndGlyphs">10</text>
<line x1="238.8" y1="897.8" x2="238.8" y2="901.3" stroke="#333" stroke-width="1.2"/>
<text x="233.63" y="912.90" font-family="'Liberation Sans', Arial, sans-serif" font-size="10.42" font-weight="bold" fill="#222" textLength="11.82" lengthAdjust="spacingAndGlyphs">20</text>
<line x1="333.1" y1="897.8" x2="333.1" y2="901.3" stroke="#333" stroke-width="1.2"/>
<text x="328.64" y="912.90" font-family="'Liberation Sans', Arial, sans-serif" font-size="10.42" font-weight="bold" fill="#222" textLength="11.39" lengthAdjust="spacingAndGlyphs">30</text>
<line x1="427.3" y1="897.8" x2="427.3" y2="901.3" stroke="#333" stroke-width="1.2"/>
<text x="422.05" y="912.90" font-family="'Liberation Sans', Arial, sans-serif" font-size="10.42" font-weight="bold" fill="#222" textLength="10.97" lengthAdjust="spacingAndGlyphs">40</text>
<line x1="521.5" y1="897.8" x2="521.5" y2="901.3" stroke="#333" stroke-width="1.2"/>
<text x="516.41" y="912.90" font-family="'Liberation Sans', Arial, sans-serif" font-size="10.42" font-weight="bold" fill="#222" textLength="10.80" lengthAdjust="spacingAndGlyphs">50</text>
<text x="31.70" y="573.20" font-family="'Liberation Sans', Arial, sans-serif" font-size="10.14" font-weight="bold" fill="#222" textLength="13.90" lengthAdjust="spacingAndGlyphs">1.0</text>
<text x="31.91" y="593.00" font-family="'Liberation Sans', Arial, sans-serif" font-size="10.14" font-weight="bold" fill="#222" textLength="13.59" lengthAdjust="spacingAndGlyphs">0.8</text>
<text x="31.91" y="612.90" font-family="'Liberation Sans', Arial, sans-serif" font-size="10.14" font-weight="bold" fill="#222" textLength="13.64" lengthAdjust="spacingAndGlyphs">0.6</text>
<text x="31.92" y="633.20" font-family="'Liberation Sans', Arial, sans-serif" font-size="10.14" font-weight="bold" fill="#222" textLength="13.33" lengthAdjust="spacingAndGlyphs">0.4</text>
<text x="31.91" y="653.40" font-family="'Liberation Sans', Arial, sans-serif" font-size="10.14" font-weight="bold" fill="#222" textLength="13.69" lengthAdjust="spacingAndGlyphs">0.2</text>
<text x="31.91" y="674.70" font-family="'Liberation Sans', Arial, sans-serif" font-size="10.14" font-weight="bold" fill="#222" textLength="13.69" lengthAdjust="spacingAndGlyphs">0.0</text>
<text x="31.70" y="683.80" font-family="'Liberation Sans', Arial, sans-serif" font-size="10.14" font-weight="bold" fill="#222" textLength="13.90" lengthAdjust="spacingAndGlyphs">1.0</text>
<text x="31.91" y="703.80" font-family="'Liberation Sans', Arial, sans-serif" font-size="10.14" font-weight="bold" fill="#222" textLength="13.59" lengthAdjust="spacingAndGlyphs">0.8</text>
<text x="31.91" y="723.80" font-family="'Liberation Sans', Arial, sans-serif" font-size="10.14" font-weight="bold" fill="#222" textLength="13.64" lengthAdjust="spacingAndGlyphs">0.6</text>
<text x="31.92" y="744.10" font-family="'Liberation Sans', Arial, sans-serif" font-size="10.14" font-weight="bold" fill="#222" textLength="13.33" lengthAdjust="spacingAndGlyphs">0.4</text>
<text x="31.91" y="764.50" font-family="'Liberation Sans', Arial, sans-serif" font-size="10.14" font-weight="bold" fill="#222" textLength="13.69" lengthAdjust="spacingAndGlyphs">0.2</text>
<text x="31.91" y="784.90" font-family="'Liberation Sans', Arial, sans-serif" font-size="10.14" font-weight="bold" fill="#222" textLength="13.69" lengthAdjust="spacingAndGlyphs">0.0</text>
<text x="31.70" y="795.20" font-family="'Liberation Sans', Arial, sans-serif" font-size="10.14" font-weight="bold" fill="#222" textLength="13.90" lengthAdjust="spacingAndGlyphs">1.0</text>
<text x="31.91" y="815.90" font-family="'Liberation Sans', Arial, sans-serif" font-size="10.14" font-weight="bold" fill="#222" textLength="13.59" lengthAdjust="spacingAndGlyphs">0.8</text>
<text x="31.91" y="835.60" font-family="'Liberation Sans', Arial, sans-serif" font-size="10.14" font-weight="bold" fill="#222" textLength="13.64" lengthAdjust="spacingAndGlyphs">0.6</text>
<text x="31.92" y="855.90" font-family="'Liberation Sans', Arial, sans-serif" font-size="10.14" font-weight="bold" fill="#222" textLength="13.33" lengthAdjust="spacingAndGlyphs">0.4</text>
<text x="31.91" y="876.60" font-family="'Liberation Sans', Arial, sans-serif" font-size="10.14" font-weight="bold" fill="#222" textLength="13.69" lengthAdjust="spacingAndGlyphs">0.2</text>
<text x="31.91" y="896.90" font-family="'Liberation Sans', Arial, sans-serif" font-size="10.14" font-weight="bold" fill="#222" textLength="13.69" lengthAdjust="spacingAndGlyphs">0.0</text>
<text x="28.39" y="555.95" font-family="'Liberation Serif', 'Times New Roman', serif" font-size="14.78" font-weight="normal" fill="#1a1a1a" stroke="#1a1a1a" stroke-width="0.15" textLength="20.24" lengthAdjust="spacingAndGlyphs">(d)</text>
<text x="206.65" y="555.18" font-family="'Liberation Serif', 'Times New Roman', serif" font-size="16.72" font-weight="normal" fill="#1a1a1a" stroke="#1a1a1a" stroke-width="0.45" textLength="156.64" lengthAdjust="spacingAndGlyphs">Frequency spectrum</text>
<text x="141.90" y="584.76" font-family="'Liberation Serif', 'Times New Roman', serif" font-size="16.67" font-weight="normal" fill="#1a1a1a" stroke="#1a1a1a" stroke-width="0.15" textLength="42.63" lengthAdjust="spacingAndGlyphs">10Hz</text>
<text x="210.22" y="696.74" font-family="'Liberation Serif', 'Times New Roman', serif" font-size="16.12" font-weight="normal" fill="#ff0000" stroke="#ff0000" stroke-width="0.20" textLength="42.69" lengthAdjust="spacingAndGlyphs">16Hz</text>
<text x="479.21" y="590.61" font-family="'Liberation Serif', 'Times New Roman', serif" font-size="18.96" font-weight="bold" fill="#111" textLength="33.20" lengthAdjust="spacingAndGlyphs">N60</text>
<text x="478.62" y="702.00" font-family="'Liberation Serif', 'Times New Roman', serif" font-size="19.70" font-weight="bold" fill="#111" textLength="32.80" lengthAdjust="spacingAndGlyphs">N24</text>
<text x="480.31" y="811.61" font-family="'Liberation Serif', 'Times New Roman', serif" font-size="19.26" font-weight="bold" fill="#111" textLength="30.91" lengthAdjust="spacingAndGlyphs">S20</text>
<text x="225.36" y="931.60" font-family="'Liberation Serif', 'Times New Roman', serif" font-size="18.35" font-weight="bold" fill="#111" stroke="#111" stroke-width="0.10" textLength="129.05" lengthAdjust="spacingAndGlyphs">Frequency (Hz)</text>
<text transform="translate(22.90 807.59) rotate(-90)" x="0" y="0" font-family="'Liberation Serif', 'Times New Roman', serif" font-size="16.65" font-weight="bold" fill="#111" stroke="#111" stroke-width="0.05" textLength="147.75" lengthAdjust="spacingAndGlyphs">Normalized spectrum</text>
</svg>
</body></html>
